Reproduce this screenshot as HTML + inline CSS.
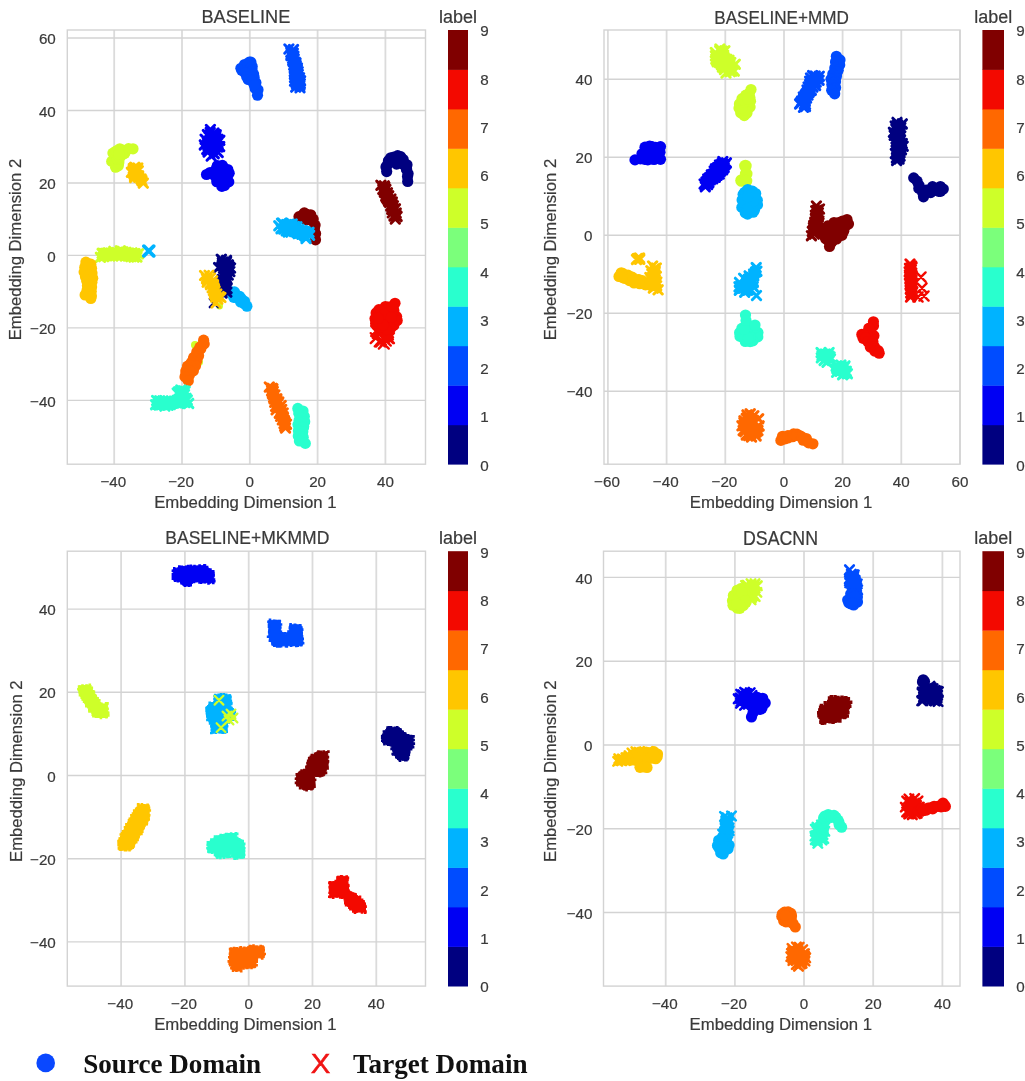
<!DOCTYPE html>
<html lang="en"><head><meta charset="utf-8"><title>t-SNE embeddings</title>
<style>html,body{margin:0;padding:0;background:#fff}svg{display:block}</style></head><body>
<svg width="1025" height="1081" viewBox="0 0 1025 1081" font-family="'Liberation Sans', Arial, sans-serif" fill="#3a3a3a">
<rect width="1025" height="1081" fill="#fff"/>
<g id="p1">
<g stroke="#d3d3d3" stroke-width="1.4" fill="none">
<path d="M114.2 30V464.2M182 30V464.2M249.8 30V464.2M317.6 30V464.2M385.4 30V464.2" stroke="#dbdbdb" stroke-width="1.8"/>
<path d="M67.3 400.4H425.5M67.3 327.9H425.5M67.3 255.4H425.5M67.3 183H425.5M67.3 110.5H425.5M67.3 38H425.5"/>
<rect x="67.3" y="30" width="358.2" height="434.2"/>
</g>
<rect x="448" y="424.7" width="20" height="39.9" fill="#000080"/>
<rect x="448" y="385.3" width="20" height="39.9" fill="#0000f3"/>
<rect x="448" y="345.8" width="20" height="39.9" fill="#004cff"/>
<rect x="448" y="306.3" width="20" height="39.9" fill="#00b3ff"/>
<rect x="448" y="266.8" width="20" height="39.9" fill="#29ffce"/>
<rect x="448" y="227.4" width="20" height="39.9" fill="#7bff7b"/>
<rect x="448" y="187.9" width="20" height="39.9" fill="#ceff29"/>
<rect x="448" y="148.4" width="20" height="39.9" fill="#ffc600"/>
<rect x="448" y="108.9" width="20" height="39.9" fill="#ff6800"/>
<rect x="448" y="69.5" width="20" height="39.9" fill="#f30900"/>
<rect x="448" y="30" width="20" height="39.9" fill="#800000"/>
<g stroke="#3a3a3a" stroke-width="0.2">
<text x="113.3" y="486.7" font-size="15.2" text-anchor="middle">−40</text>
<text x="181.1" y="486.7" font-size="15.2" text-anchor="middle">−20</text>
<text x="249.8" y="486.7" font-size="15.2" text-anchor="middle">0</text>
<text x="317.6" y="486.7" font-size="15.2" text-anchor="middle">20</text>
<text x="385.4" y="486.7" font-size="15.2" text-anchor="middle">40</text>
<text x="55.8" y="406.5" font-size="15.2" text-anchor="end">−40</text>
<text x="55.8" y="334" font-size="15.2" text-anchor="end">−20</text>
<text x="55.8" y="261.6" font-size="15.2" text-anchor="end">0</text>
<text x="55.8" y="189.1" font-size="15.2" text-anchor="end">20</text>
<text x="55.8" y="116.6" font-size="15.2" text-anchor="end">40</text>
<text x="55.8" y="44.1" font-size="15.2" text-anchor="end">60</text>
<text x="480.2" y="470.5" font-size="15.2">0</text>
<text x="480.2" y="422.3" font-size="15.2">1</text>
<text x="480.2" y="374" font-size="15.2">2</text>
<text x="480.2" y="325.8" font-size="15.2">3</text>
<text x="480.2" y="277.5" font-size="15.2">4</text>
<text x="480.2" y="229.3" font-size="15.2">5</text>
<text x="480.2" y="181" font-size="15.2">6</text>
<text x="480.2" y="132.8" font-size="15.2">7</text>
<text x="480.2" y="84.5" font-size="15.2">8</text>
<text x="480.2" y="36.3" font-size="15.2">9</text>
<text x="245.4" y="507.8" font-size="16" text-anchor="middle" textLength="182.5" lengthAdjust="spacingAndGlyphs">Embedding Dimension 1</text>
<text x="20.8" y="249.6" font-size="16" text-anchor="middle" textLength="181.5" lengthAdjust="spacingAndGlyphs" transform="rotate(-90 20.8 249.6)">Embedding Dimension 2</text>
<text x="245.9" y="23.4" font-size="19" text-anchor="middle" textLength="89" lengthAdjust="spacingAndGlyphs">BASELINE</text>
<text x="458" y="23" font-size="17.5" text-anchor="middle" textLength="38" lengthAdjust="spacingAndGlyphs">label</text>
</g>
<g fill="#ceff29"><circle cx="111.7" cy="161.4" r="5.6"/><circle cx="112.9" cy="153.1" r="5.6"/><circle cx="117.1" cy="150.9" r="5.6"/><circle cx="120.1" cy="156.4" r="5.6"/><circle cx="118.3" cy="165.7" r="5.6"/><circle cx="115.6" cy="167.2" r="5.6"/><circle cx="118.8" cy="162.7" r="5.6"/><circle cx="117" cy="152.5" r="5.6"/><circle cx="115.7" cy="157.9" r="5.6"/><circle cx="119.1" cy="159.4" r="5.6"/><circle cx="117.3" cy="159" r="5.6"/><circle cx="117.5" cy="158.2" r="5.6"/><circle cx="116" cy="151.1" r="5.6"/><circle cx="119.8" cy="148.8" r="5.6"/><circle cx="122.4" cy="150.2" r="5.6"/><circle cx="125.8" cy="151" r="5.6"/><circle cx="128.5" cy="148.6" r="5.6"/><circle cx="133" cy="148.8" r="5.6"/><circle cx="124.8" cy="153.2" r="5.6"/><circle cx="122.6" cy="154.6" r="5.6"/><circle cx="118.9" cy="156.9" r="5.6"/><circle cx="119.1" cy="153.2" r="5.6"/><circle cx="119.1" cy="154.2" r="5.6"/></g>
<path d="M127.2 168.1l8.4 8.4M127.2 176.5l8.4 -8.4M129.1 164.3l8.4 8.4M129.1 172.7l8.4 -8.4M133.6 163.8l8.4 8.4M133.6 172.2l8.4 -8.4M134.4 171.6l8.4 8.4M134.4 180l8.4 -8.4M130.4 173.3l8.4 8.4M130.4 181.7l8.4 -8.4M130.8 163.4l8.4 8.4M130.8 171.8l8.4 -8.4M133 165.7l8.4 8.4M133 174.1l8.4 -8.4M130.4 172.3l8.4 8.4M130.4 180.7l8.4 -8.4M130.6 163.1l8.4 8.4M130.6 171.5l8.4 -8.4M129.6 169.4l8.4 8.4M129.6 177.8l8.4 -8.4M134.1 166.5l8.4 8.4M134.1 174.9l8.4 -8.4M130.6 169l8.4 8.4M130.6 177.4l8.4 -8.4M131.1 166.3l8.4 8.4M131.1 174.7l8.4 -8.4M132.8 165.9l8.4 8.4M132.8 174.3l8.4 -8.4M130.1 170.3l8.4 8.4M130.1 178.7l8.4 -8.4M128.9 166l8.4 8.4M128.9 174.4l8.4 -8.4M134.5 173.1l8.4 8.4M134.5 181.5l8.4 -8.4M136.9 174.8l8.4 8.4M136.9 183.2l8.4 -8.4M137.7 176.4l8.4 8.4M137.7 184.8l8.4 -8.4M139.1 178.9l8.4 8.4M139.1 187.3l8.4 -8.4" stroke="#ffc600" stroke-width="3" stroke-linecap="round" fill="none"/>
<path d="M207 151.8l8.4 8.4M207 160.2l8.4 -8.4M203.9 147.7l8.4 8.4M203.9 156.1l8.4 -8.4M202.6 145.2l8.4 8.4M202.6 153.6l8.4 -8.4M200.1 140.7l8.4 8.4M200.1 149.1l8.4 -8.4M200.9 135l8.4 8.4M200.9 143.4l8.4 -8.4M203.2 130.4l8.4 8.4M203.2 138.8l8.4 -8.4M206.2 125.3l8.4 8.4M206.2 133.7l8.4 -8.4M209.8 128.9l8.4 8.4M209.8 137.3l8.4 -8.4M212 130.5l8.4 8.4M212 138.9l8.4 -8.4M215.6 136.1l8.4 8.4M215.6 144.5l8.4 -8.4M215.5 142.4l8.4 8.4M215.5 150.8l8.4 -8.4M214 148.3l8.4 8.4M214 156.7l8.4 -8.4M210 149.5l8.4 8.4M210 157.9l8.4 -8.4M213.7 138.4l8.4 8.4M213.7 146.8l8.4 -8.4M212.1 140.6l8.4 8.4M212.1 149l8.4 -8.4M206.6 134.9l8.4 8.4M206.6 143.3l8.4 -8.4M206.6 133.4l8.4 8.4M206.6 141.8l8.4 -8.4M211 140.4l8.4 8.4M211 148.8l8.4 -8.4M210.8 137.2l8.4 8.4M210.8 145.6l8.4 -8.4M208.2 131.7l8.4 8.4M208.2 140.1l8.4 -8.4M207.1 141.8l8.4 8.4M207.1 150.2l8.4 -8.4M206 128.2l8.4 8.4M206 136.6l8.4 -8.4M207.6 131.2l8.4 8.4M207.6 139.6l8.4 -8.4M205.9 145.1l8.4 8.4M205.9 153.5l8.4 -8.4M213.5 142.8l8.4 8.4M213.5 151.2l8.4 -8.4M202.1 136.3l8.4 8.4M202.1 144.7l8.4 -8.4M213.7 135.2l8.4 8.4M213.7 143.6l8.4 -8.4M211.5 130.5l8.4 8.4M211.5 138.9l8.4 -8.4M209.8 141.1l8.4 8.4M209.8 149.5l8.4 -8.4M209.3 134.7l8.4 8.4M209.3 143.1l8.4 -8.4M211.6 134.2l8.4 8.4M211.6 142.6l8.4 -8.4M210.2 140.4l8.4 8.4M210.2 148.8l8.4 -8.4M206.8 134.3l8.4 8.4M206.8 142.7l8.4 -8.4M204.5 132.1l8.4 8.4M204.5 140.5l8.4 -8.4M207.3 135l8.4 8.4M207.3 143.4l8.4 -8.4M205 138.7l8.4 8.4M205 147.1l8.4 -8.4M207.4 143.7l8.4 8.4M207.4 152.1l8.4 -8.4M211.8 131.8l8.4 8.4M211.8 140.2l8.4 -8.4M203.7 141.3l8.4 8.4M203.7 149.7l8.4 -8.4M205.4 131.4l8.4 8.4M205.4 139.8l8.4 -8.4" stroke="#0000f3" stroke-width="3" stroke-linecap="round" fill="none"/>
<g fill="#0000f3"><circle cx="228.8" cy="181.9" r="5.6"/><circle cx="224.5" cy="185.5" r="5.6"/><circle cx="221.9" cy="186.4" r="5.6"/><circle cx="216.8" cy="181.7" r="5.6"/><circle cx="214.6" cy="175.6" r="5.6"/><circle cx="215.8" cy="169.4" r="5.6"/><circle cx="217.3" cy="165.6" r="5.6"/><circle cx="222.4" cy="165.4" r="5.6"/><circle cx="227.8" cy="169.5" r="5.6"/><circle cx="229.2" cy="173.3" r="5.6"/><circle cx="223.2" cy="167.5" r="5.6"/><circle cx="221.5" cy="178.1" r="5.6"/><circle cx="222.8" cy="167.9" r="5.6"/><circle cx="221" cy="168.5" r="5.6"/><circle cx="220.1" cy="169.2" r="5.6"/><circle cx="226.7" cy="174.7" r="5.6"/><circle cx="216" cy="177.2" r="5.6"/><circle cx="225.1" cy="175.8" r="5.6"/><circle cx="221.2" cy="175.3" r="5.6"/><circle cx="221.4" cy="177.8" r="5.6"/><circle cx="206.5" cy="174.5" r="5.6"/><circle cx="210" cy="172.5" r="5.6"/></g>
<g fill="#004cff"><circle cx="240.9" cy="68.3" r="5.6"/><circle cx="244.5" cy="64.5" r="5.6"/><circle cx="247.6" cy="64" r="5.6"/><circle cx="250.9" cy="62.1" r="5.6"/><circle cx="249.3" cy="62.2" r="5.6"/><circle cx="252.2" cy="66.4" r="5.6"/><circle cx="251.9" cy="69.6" r="5.6"/><circle cx="251.4" cy="71.4" r="5.6"/><circle cx="253.6" cy="74.1" r="5.6"/><circle cx="254.1" cy="77.2" r="5.6"/><circle cx="252.8" cy="80.4" r="5.6"/><circle cx="255.9" cy="82.7" r="5.6"/><circle cx="255.2" cy="86.2" r="5.6"/><circle cx="255.2" cy="88.4" r="5.6"/><circle cx="258" cy="89.8" r="5.6"/><circle cx="257.5" cy="95.2" r="5.6"/><circle cx="241.7" cy="70.3" r="5.6"/><circle cx="245" cy="72.8" r="5.6"/><circle cx="246.6" cy="76.5" r="5.6"/><circle cx="248.2" cy="79.5" r="5.6"/><circle cx="251.5" cy="80.9" r="5.6"/><circle cx="254.2" cy="84.9" r="5.6"/></g>
<path d="M284.7 44.8l8.4 8.4M284.7 53.2l8.4 -8.4M289.3 45.4l8.4 8.4M289.3 53.8l8.4 -8.4M288.4 46.5l8.4 8.4M288.4 54.9l8.4 -8.4M286.6 48.1l8.4 8.4M286.6 56.5l8.4 -8.4M289.1 49l8.4 8.4M289.1 57.4l8.4 -8.4M286.8 50.5l8.4 8.4M286.8 58.9l8.4 -8.4M286.7 51.3l8.4 8.4M286.7 59.7l8.4 -8.4M289.7 52.1l8.4 8.4M289.7 60.5l8.4 -8.4M289.1 52.8l8.4 8.4M289.1 61.2l8.4 -8.4M288.4 54.4l8.4 8.4M288.4 62.8l8.4 -8.4M290 54.9l8.4 8.4M290 63.3l8.4 -8.4M288.5 56.3l8.4 8.4M288.5 64.7l8.4 -8.4M289 57.3l8.4 8.4M289 65.7l8.4 -8.4M291.3 58.2l8.4 8.4M291.3 66.6l8.4 -8.4M291.8 58.9l8.4 8.4M291.8 67.3l8.4 -8.4M289.5 60.9l8.4 8.4M289.5 69.3l8.4 -8.4M292 61.4l8.4 8.4M292 69.8l8.4 -8.4M291.9 62.1l8.4 8.4M291.9 70.5l8.4 -8.4M290 63.6l8.4 8.4M290 72l8.4 -8.4M293.2 63.9l8.4 8.4M293.2 72.3l8.4 -8.4M293.1 65.4l8.4 8.4M293.1 73.8l8.4 -8.4M290.1 67.1l8.4 8.4M290.1 75.5l8.4 -8.4M294 67.5l8.4 8.4M294 75.9l8.4 -8.4M292.1 68.9l8.4 8.4M292.1 77.3l8.4 -8.4M290.2 70.2l8.4 8.4M290.2 78.6l8.4 -8.4M294.1 70.2l8.4 8.4M294.1 78.6l8.4 -8.4M292.8 71.6l8.4 8.4M292.8 80l8.4 -8.4M290.3 73.3l8.4 8.4M290.3 81.7l8.4 -8.4M295.3 73.6l8.4 8.4M295.3 82l8.4 -8.4M293.1 74.9l8.4 8.4M293.1 83.3l8.4 -8.4M290.3 76.9l8.4 8.4M290.3 85.3l8.4 -8.4M296.4 76.6l8.4 8.4M296.4 85l8.4 -8.4M295.1 77.6l8.4 8.4M295.1 86l8.4 -8.4M292.1 79.2l8.4 8.4M292.1 87.6l8.4 -8.4M296.1 79.5l8.4 8.4M296.1 87.9l8.4 -8.4M295.7 81.2l8.4 8.4M295.7 89.6l8.4 -8.4M291.5 82.9l8.4 8.4M291.5 91.3l8.4 -8.4M295.8 83.6l8.4 8.4M295.8 92l8.4 -8.4" stroke="#004cff" stroke-width="3" stroke-linecap="round" fill="none"/>
<g fill="#000080"><circle cx="386.7" cy="171.6" r="5.6"/><circle cx="386" cy="167" r="5.6"/><circle cx="387" cy="165.4" r="5.6"/><circle cx="388.5" cy="160.6" r="5.6"/><circle cx="388.9" cy="160.9" r="5.6"/><circle cx="390.7" cy="157.8" r="5.6"/><circle cx="393.8" cy="157.2" r="5.6"/><circle cx="396.2" cy="158.9" r="5.6"/><circle cx="397.7" cy="155.6" r="5.6"/><circle cx="400.7" cy="156.7" r="5.6"/><circle cx="400.1" cy="158" r="5.6"/><circle cx="403.2" cy="159.5" r="5.6"/><circle cx="403.1" cy="163.1" r="5.6"/><circle cx="403.2" cy="164.3" r="5.6"/><circle cx="407" cy="164.8" r="5.6"/><circle cx="406.5" cy="169.4" r="5.6"/><circle cx="406.6" cy="169" r="5.6"/><circle cx="408.1" cy="173.7" r="5.6"/><circle cx="407.5" cy="176.4" r="5.6"/><circle cx="407.7" cy="181.5" r="5.6"/><circle cx="395.6" cy="159.9" r="5.6"/><circle cx="392.8" cy="161.3" r="5.6"/><circle cx="398" cy="161.4" r="5.6"/><circle cx="394.6" cy="160.9" r="5.6"/><circle cx="396.6" cy="164.1" r="5.6"/></g>
<path d="M376.7 181.1l8.4 8.4M376.7 189.5l8.4 -8.4M380.1 181.7l8.4 8.4M380.1 190.1l8.4 -8.4M380.6 182.7l8.4 8.4M380.6 191.1l8.4 -8.4M378.6 185.1l8.4 8.4M378.6 193.5l8.4 -8.4M381.7 185.2l8.4 8.4M381.7 193.6l8.4 -8.4M380.1 187.3l8.4 8.4M380.1 195.7l8.4 -8.4M380.2 188.1l8.4 8.4M380.2 196.5l8.4 -8.4M383.2 188.6l8.4 8.4M383.2 197l8.4 -8.4M382 189.9l8.4 8.4M382 198.3l8.4 -8.4M381.5 192l8.4 8.4M381.5 200.4l8.4 -8.4M384.5 191.6l8.4 8.4M384.5 200l8.4 -8.4M382.4 193.6l8.4 8.4M382.4 202l8.4 -8.4M383.2 194.7l8.4 8.4M383.2 203.1l8.4 -8.4M386.7 194.9l8.4 8.4M386.7 203.3l8.4 -8.4M384.4 197.1l8.4 8.4M384.4 205.5l8.4 -8.4M385.3 198.1l8.4 8.4M385.3 206.5l8.4 -8.4M388.1 197.9l8.4 8.4M388.1 206.3l8.4 -8.4M387.8 200l8.4 8.4M387.8 208.4l8.4 -8.4M386.5 201.7l8.4 8.4M386.5 210.1l8.4 -8.4M389.2 201.5l8.4 8.4M389.2 209.9l8.4 -8.4M388.3 203.6l8.4 8.4M388.3 212l8.4 -8.4M387.5 205l8.4 8.4M387.5 213.4l8.4 -8.4M391.2 204.6l8.4 8.4M391.2 213l8.4 -8.4M389.3 207l8.4 8.4M389.3 215.4l8.4 -8.4M388.1 208.6l8.4 8.4M388.1 217l8.4 -8.4M392 208.8l8.4 8.4M392 217.2l8.4 -8.4M391.7 209.6l8.4 8.4M391.7 218l8.4 -8.4M389.8 211.7l8.4 8.4M389.8 220.1l8.4 -8.4M392.9 212.2l8.4 8.4M392.9 220.6l8.4 -8.4M391.1 214.8l8.4 8.4M391.1 223.2l8.4 -8.4" stroke="#800000" stroke-width="3" stroke-linecap="round" fill="none"/>
<g fill="#800000"><circle cx="304.3" cy="212.9" r="5.6"/><circle cx="310.7" cy="214.8" r="5.6"/><circle cx="309.5" cy="219.7" r="5.6"/><circle cx="305.7" cy="219.9" r="5.6"/><circle cx="299" cy="216.7" r="5.6"/><circle cx="303.1" cy="214.7" r="5.6"/><circle cx="306.8" cy="214.4" r="5.6"/><circle cx="306.2" cy="215.7" r="5.6"/><circle cx="308.6" cy="219.3" r="5.6"/><circle cx="308.6" cy="218.9" r="5.6"/><circle cx="313.2" cy="219.1" r="5.6"/><circle cx="315.1" cy="225.1" r="5.6"/><circle cx="314.5" cy="227.8" r="5.6"/><circle cx="314.5" cy="231.8" r="5.6"/><circle cx="315.6" cy="233.8" r="5.6"/><circle cx="315.5" cy="239.8" r="5.6"/></g>
<path d="M274.6 221.6l8.4 8.4M274.6 230l8.4 -8.4M277.3 219l8.4 8.4M277.3 227.4l8.4 -8.4M278.1 218.9l8.4 8.4M278.1 227.3l8.4 -8.4M276.8 224.5l8.4 8.4M276.8 232.9l8.4 -8.4M279.3 220l8.4 8.4M279.3 228.4l8.4 -8.4M280.2 221.4l8.4 8.4M280.2 229.8l8.4 -8.4M279.5 224.7l8.4 8.4M279.5 233.1l8.4 -8.4M282.5 220.3l8.4 8.4M282.5 228.7l8.4 -8.4M282.1 223.2l8.4 8.4M282.1 231.6l8.4 -8.4M282 226.6l8.4 8.4M282 235l8.4 -8.4M285.1 219.9l8.4 8.4M285.1 228.3l8.4 -8.4M285.4 221.3l8.4 8.4M285.4 229.7l8.4 -8.4M284 227.7l8.4 8.4M284 236.1l8.4 -8.4M288 219.9l8.4 8.4M288 228.3l8.4 -8.4M288 222.4l8.4 8.4M288 230.8l8.4 -8.4M286.7 227.9l8.4 8.4M286.7 236.3l8.4 -8.4M290.3 222.3l8.4 8.4M290.3 230.7l8.4 -8.4M290.7 222.8l8.4 8.4M290.7 231.2l8.4 -8.4M290.2 227.3l8.4 8.4M290.2 235.7l8.4 -8.4M292.7 222.6l8.4 8.4M292.7 231l8.4 -8.4M292.5 226.1l8.4 8.4M292.5 234.5l8.4 -8.4M292.5 228l8.4 8.4M292.5 236.4l8.4 -8.4M294.8 225.1l8.4 8.4M294.8 233.5l8.4 -8.4M293.9 229.4l8.4 8.4M293.9 237.8l8.4 -8.4M295.4 228.9l8.4 8.4M295.4 237.3l8.4 -8.4M297.3 226.8l8.4 8.4M297.3 235.2l8.4 -8.4M298.1 226.3l8.4 8.4M298.1 234.7l8.4 -8.4M297.7 230.1l8.4 8.4M297.7 238.5l8.4 -8.4M299.6 227.4l8.4 8.4M299.6 235.8l8.4 -8.4M300.8 227.3l8.4 8.4M300.8 235.7l8.4 -8.4M300.3 231.1l8.4 8.4M300.3 239.5l8.4 -8.4M302.1 228.6l8.4 8.4M302.1 237l8.4 -8.4M301.6 232.6l8.4 8.4M301.6 241l8.4 -8.4M301.8 234.3l8.4 8.4M301.8 242.7l8.4 -8.4M304.8 228.1l8.4 8.4M304.8 236.5l8.4 -8.4M305.4 231.1l8.4 8.4M305.4 239.5l8.4 -8.4" stroke="#00b3ff" stroke-width="3" stroke-linecap="round" fill="none"/>
<path d="M96.3 253.1l8.4 8.4M96.3 261.5l8.4 -8.4M98 249.2l8.4 8.4M98 257.6l8.4 -8.4M98.8 249l8.4 8.4M98.8 257.4l8.4 -8.4M99.5 252.4l8.4 8.4M99.5 260.8l8.4 -8.4M100.9 249.4l8.4 8.4M100.9 257.8l8.4 -8.4M102 249l8.4 8.4M102 257.4l8.4 -8.4M102.6 251.6l8.4 8.4M102.6 260l8.4 -8.4M104.1 248.6l8.4 8.4M104.1 257l8.4 -8.4M105 250.4l8.4 8.4M105 258.8l8.4 -8.4M105.5 251.7l8.4 8.4M105.5 260.1l8.4 -8.4M106.8 248.8l8.4 8.4M106.8 257.2l8.4 -8.4M108.1 249.5l8.4 8.4M108.1 257.9l8.4 -8.4M108.6 251.7l8.4 8.4M108.6 260.1l8.4 -8.4M109.6 247.2l8.4 8.4M109.6 255.6l8.4 -8.4M110.8 250.2l8.4 8.4M110.8 258.6l8.4 -8.4M111.7 250.9l8.4 8.4M111.7 259.3l8.4 -8.4M112.6 248.4l8.4 8.4M112.6 256.8l8.4 -8.4M114 249l8.4 8.4M114 257.4l8.4 -8.4M115 250.6l8.4 8.4M115 259l8.4 -8.4M116.1 246.5l8.4 8.4M116.1 254.9l8.4 -8.4M117 251l8.4 8.4M117 259.4l8.4 -8.4M117.8 251.1l8.4 8.4M117.8 259.5l8.4 -8.4M118.6 247.5l8.4 8.4M118.6 255.9l8.4 -8.4M120 248.9l8.4 8.4M120 257.3l8.4 -8.4M121.1 251.8l8.4 8.4M121.1 260.2l8.4 -8.4M121.7 248.1l8.4 8.4M121.7 256.5l8.4 -8.4M122.8 249.6l8.4 8.4M122.8 258l8.4 -8.4M124.1 251.8l8.4 8.4M124.1 260.2l8.4 -8.4M124.5 248.8l8.4 8.4M124.5 257.2l8.4 -8.4M125.9 251.8l8.4 8.4M125.9 260.2l8.4 -8.4M126.8 252.4l8.4 8.4M126.8 260.8l8.4 -8.4M127.8 248.7l8.4 8.4M127.8 257.1l8.4 -8.4M128.6 250.4l8.4 8.4M128.6 258.8l8.4 -8.4M129.8 252.9l8.4 8.4M129.8 261.3l8.4 -8.4M130.6 249.4l8.4 8.4M130.6 257.8l8.4 -8.4M131.7 251.6l8.4 8.4M131.7 260l8.4 -8.4M132.7 252.8l8.4 8.4M132.7 261.2l8.4 -8.4M134.3 249.5l8.4 8.4M134.3 257.9l8.4 -8.4" stroke="#ceff29" stroke-width="3" stroke-linecap="round" fill="none"/>
<path d="M143.9 246.1l9.8 9.8M143.9 255.9l9.8 -9.8" stroke="#00b3ff" stroke-width="3.7" stroke-linecap="round" fill="none"/>
<g fill="#ffc600"><circle cx="85.9" cy="262.1" r="5.6"/><circle cx="90.8" cy="264.2" r="5.6"/><circle cx="88.7" cy="265.5" r="5.6"/><circle cx="84.8" cy="267.2" r="5.6"/><circle cx="91.5" cy="268.3" r="5.6"/><circle cx="89.1" cy="270.5" r="5.6"/><circle cx="84.1" cy="272.1" r="5.6"/><circle cx="92" cy="273.1" r="5.6"/><circle cx="88.4" cy="275.2" r="5.6"/><circle cx="85.5" cy="276.7" r="5.6"/><circle cx="92.7" cy="278.2" r="5.6"/><circle cx="89.7" cy="279.7" r="5.6"/><circle cx="86.8" cy="281.2" r="5.6"/><circle cx="91.9" cy="282.2" r="5.6"/><circle cx="88.1" cy="284.1" r="5.6"/><circle cx="87.4" cy="285.7" r="5.6"/><circle cx="91.6" cy="287.1" r="5.6"/><circle cx="90.3" cy="288.3" r="5.6"/><circle cx="87" cy="290.5" r="5.6"/><circle cx="91.2" cy="291.2" r="5.6"/><circle cx="90.7" cy="292.7" r="5.6"/><circle cx="85.1" cy="295" r="5.6"/><circle cx="91.4" cy="296" r="5.6"/><circle cx="90.8" cy="298.5" r="5.6"/></g>
<g fill="#00b3ff"><circle cx="230.9" cy="291.8" r="5.6"/><circle cx="234.5" cy="291.9" r="5.6"/><circle cx="234.9" cy="294.8" r="5.6"/><circle cx="236.3" cy="297.6" r="5.6"/><circle cx="239.7" cy="296.4" r="5.6"/><circle cx="241.4" cy="298.8" r="5.6"/><circle cx="240.6" cy="302" r="5.6"/><circle cx="244.5" cy="301.3" r="5.6"/><circle cx="244.3" cy="303.9" r="5.6"/><circle cx="246.9" cy="306.2" r="5.6"/><circle cx="234.1" cy="294.7" r="5.6"/><circle cx="234.5" cy="296.4" r="5.6"/><circle cx="233.7" cy="297.3" r="5.6"/></g>
<g fill="#ceff29"><circle cx="219.5" cy="306" r="3.5"/></g>
<path d="M209.8 298.8l8.4 8.4M209.8 307.2l8.4 -8.4" stroke="#000080" stroke-width="2.4" stroke-linecap="round" fill="none"/>
<path d="M217.1 255.1l8.4 8.4M217.1 263.5l8.4 -8.4M222.3 256.2l8.4 8.4M222.3 264.6l8.4 -8.4M225.2 262.8l8.4 8.4M225.2 271.2l8.4 -8.4M221 266l8.4 8.4M221 274.4l8.4 -8.4M214.5 263.4l8.4 8.4M214.5 271.8l8.4 -8.4M224.1 263.2l8.4 8.4M224.1 271.6l8.4 -8.4M222.3 257.3l8.4 8.4M222.3 265.7l8.4 -8.4M221.9 258.4l8.4 8.4M221.9 266.8l8.4 -8.4M222.4 262.8l8.4 8.4M222.4 271.2l8.4 -8.4M218.8 257.9l8.4 8.4M218.8 266.3l8.4 -8.4M224.2 260.7l8.4 8.4M224.2 269.1l8.4 -8.4M218.1 261.2l8.4 8.4M218.1 269.6l8.4 -8.4M219.1 258l8.4 8.4M219.1 266.4l8.4 -8.4M219.4 264.1l8.4 8.4M219.4 272.5l8.4 -8.4M218.2 258.6l8.4 8.4M218.2 267l8.4 -8.4M218.3 260.5l8.4 8.4M218.3 268.9l8.4 -8.4M222.1 261.5l8.4 8.4M222.1 269.9l8.4 -8.4M226.3 263.8l8.4 8.4M226.3 272.2l8.4 -8.4M224.4 264.6l8.4 8.4M224.4 273l8.4 -8.4M221.9 265.6l8.4 8.4M221.9 274l8.4 -8.4M225.6 267.3l8.4 8.4M225.6 275.7l8.4 -8.4M222.2 267.9l8.4 8.4M222.2 276.3l8.4 -8.4M221.3 269.2l8.4 8.4M221.3 277.6l8.4 -8.4M224 270.8l8.4 8.4M224 279.2l8.4 -8.4M221 271.5l8.4 8.4M221 279.9l8.4 -8.4M220.3 271.9l8.4 8.4M220.3 280.3l8.4 -8.4M222.3 274l8.4 8.4M222.3 282.4l8.4 -8.4M222.9 275.2l8.4 8.4M222.9 283.6l8.4 -8.4M218 275.3l8.4 8.4M218 283.7l8.4 -8.4M221.3 277.1l8.4 8.4M221.3 285.5l8.4 -8.4M218.9 278.1l8.4 8.4M218.9 286.5l8.4 -8.4M217 278.7l8.4 8.4M217 287.1l8.4 -8.4M221.2 280.4l8.4 8.4M221.2 288.8l8.4 -8.4M220.5 281.9l8.4 8.4M220.5 290.3l8.4 -8.4M217 282l8.4 8.4M217 290.4l8.4 -8.4M222.8 284.3l8.4 8.4M222.8 292.7l8.4 -8.4M217.6 284.3l8.4 8.4M217.6 292.7l8.4 -8.4M218.1 285.7l8.4 8.4M218.1 294.1l8.4 -8.4M222.6 287.9l8.4 8.4M222.6 296.3l8.4 -8.4M217.9 288.7l8.4 8.4M217.9 297.1l8.4 -8.4" stroke="#000080" stroke-width="3" stroke-linecap="round" fill="none"/>
<path d="M200.3 271.3l8.4 8.4M200.3 279.7l8.4 -8.4M204.8 270.9l8.4 8.4M204.8 279.3l8.4 -8.4M202.4 273.3l8.4 8.4M202.4 281.7l8.4 -8.4M202.2 274.5l8.4 8.4M202.2 282.9l8.4 -8.4M206.3 273.7l8.4 8.4M206.3 282.1l8.4 -8.4M203.4 276.4l8.4 8.4M203.4 284.8l8.4 -8.4M202.9 278.1l8.4 8.4M202.9 286.5l8.4 -8.4M208.5 276.5l8.4 8.4M208.5 284.9l8.4 -8.4M205.9 279.3l8.4 8.4M205.9 287.7l8.4 -8.4M206.2 280.5l8.4 8.4M206.2 288.9l8.4 -8.4M209 280.1l8.4 8.4M209 288.5l8.4 -8.4M209.5 281l8.4 8.4M209.5 289.4l8.4 -8.4M207.9 283.6l8.4 8.4M207.9 292l8.4 -8.4M209.9 283.5l8.4 8.4M209.9 291.9l8.4 -8.4M210.4 285l8.4 8.4M210.4 293.4l8.4 -8.4M209.1 286.3l8.4 8.4M209.1 294.7l8.4 -8.4M211 286.7l8.4 8.4M211 295.1l8.4 -8.4M210.1 288.3l8.4 8.4M210.1 296.7l8.4 -8.4M210.2 290.1l8.4 8.4M210.2 298.5l8.4 -8.4M212.7 289.8l8.4 8.4M212.7 298.2l8.4 -8.4M211.5 292.1l8.4 8.4M211.5 300.5l8.4 -8.4M211.4 293.2l8.4 8.4M211.4 301.6l8.4 -8.4M215.1 292.3l8.4 8.4M215.1 300.7l8.4 -8.4M213.7 295.1l8.4 8.4M213.7 303.5l8.4 -8.4M211.8 298.8l8.4 8.4M211.8 307.2l8.4 -8.4M216.8 293.3l8.4 8.4M216.8 301.7l8.4 -8.4" stroke="#ffc600" stroke-width="2.8" stroke-linecap="round" fill="none"/>
<g fill="#ceff29"><circle cx="195" cy="345" r="4"/><circle cx="199" cy="362" r="4"/></g>
<g fill="#ff6800"><circle cx="203.6" cy="340.2" r="5.6"/><circle cx="204.2" cy="343.9" r="5.6"/><circle cx="201.8" cy="345.8" r="5.6"/><circle cx="200" cy="347.1" r="5.6"/><circle cx="200.8" cy="348.9" r="5.6"/><circle cx="198.8" cy="350" r="5.6"/><circle cx="196.8" cy="351.9" r="5.6"/><circle cx="198.6" cy="355.7" r="5.6"/><circle cx="197.2" cy="356.7" r="5.6"/><circle cx="193.5" cy="358.2" r="5.6"/><circle cx="194.1" cy="357.1" r="5.6"/><circle cx="196.8" cy="360.8" r="5.6"/><circle cx="192.8" cy="361" r="5.6"/><circle cx="191.2" cy="362.8" r="5.6"/><circle cx="195.5" cy="365.8" r="5.6"/><circle cx="190.8" cy="365.7" r="5.6"/><circle cx="187.5" cy="366.1" r="5.6"/><circle cx="193.4" cy="370.8" r="5.6"/><circle cx="189.2" cy="370.5" r="5.6"/><circle cx="185.8" cy="371.1" r="5.6"/><circle cx="189.4" cy="375.3" r="5.6"/><circle cx="185.8" cy="374.4" r="5.6"/><circle cx="185" cy="376.9" r="5.6"/><circle cx="188.3" cy="380.9" r="5.6"/></g>
<path d="M151.4 400.5l8.4 8.4M151.4 408.9l8.4 -8.4M152.4 396.3l8.4 8.4M152.4 404.7l8.4 -8.4M153.6 400l8.4 8.4M153.6 408.4l8.4 -8.4M154.9 400.7l8.4 8.4M154.9 409.1l8.4 -8.4M155.5 396.5l8.4 8.4M155.5 404.9l8.4 -8.4M156.7 400.6l8.4 8.4M156.7 409l8.4 -8.4M157.5 400.4l8.4 8.4M157.5 408.8l8.4 -8.4M158.7 396.7l8.4 8.4M158.7 405.1l8.4 -8.4M159.3 398.1l8.4 8.4M159.3 406.5l8.4 -8.4M160.7 401.9l8.4 8.4M160.7 410.3l8.4 -8.4M161.2 397.2l8.4 8.4M161.2 405.6l8.4 -8.4M162.5 398.6l8.4 8.4M162.5 407l8.4 -8.4M163.9 401l8.4 8.4M163.9 409.4l8.4 -8.4M164.3 397.5l8.4 8.4M164.3 405.9l8.4 -8.4M165.7 399.9l8.4 8.4M165.7 408.3l8.4 -8.4M166.2 400.2l8.4 8.4M166.2 408.6l8.4 -8.4M167.5 397.3l8.4 8.4M167.5 405.7l8.4 -8.4M168.2 399.1l8.4 8.4M168.2 407.5l8.4 -8.4M169.5 398.8l8.4 8.4M169.5 407.2l8.4 -8.4M170.3 397.2l8.4 8.4M170.3 405.6l8.4 -8.4M170.9 397.2l8.4 8.4M170.9 405.6l8.4 -8.4M172.1 398.5l8.4 8.4M172.1 406.9l8.4 -8.4M173.1 396.1l8.4 8.4M173.1 404.5l8.4 -8.4M174.5 399.2l8.4 8.4M174.5 407.6l8.4 -8.4M175.4 398.4l8.4 8.4M175.4 406.8l8.4 -8.4M175.8 396.1l8.4 8.4M175.8 404.5l8.4 -8.4M177.1 397.5l8.4 8.4M177.1 405.9l8.4 -8.4M178.1 397.9l8.4 8.4M178.1 406.3l8.4 -8.4M178.6 394.2l8.4 8.4M178.6 402.6l8.4 -8.4M180 397.8l8.4 8.4M180 406.2l8.4 -8.4M180.8 398.3l8.4 8.4M180.8 406.7l8.4 -8.4M181.9 394.2l8.4 8.4M181.9 402.6l8.4 -8.4M183.1 395.8l8.4 8.4M183.1 404.2l8.4 -8.4M184.5 399.2l8.4 8.4M184.5 407.6l8.4 -8.4M173 388.8l8.4 8.4M173 397.2l8.4 -8.4M176.6 385.9l8.4 8.4M176.6 394.3l8.4 -8.4M178.9 391.7l8.4 8.4M178.9 400.1l8.4 -8.4M174.4 387.5l8.4 8.4M174.4 395.9l8.4 -8.4M177.5 388.8l8.4 8.4M177.5 397.2l8.4 -8.4M181 387l8.4 8.4M181 395.4l8.4 -8.4M176.4 389.7l8.4 8.4M176.4 398.1l8.4 -8.4M180.3 390.3l8.4 8.4M180.3 398.7l8.4 -8.4M175.1 390.9l8.4 8.4M175.1 399.3l8.4 -8.4M179.1 386.5l8.4 8.4M179.1 394.9l8.4 -8.4" stroke="#29ffce" stroke-width="3" stroke-linecap="round" fill="none"/>
<path d="M384 333.1l10 10M384 343.1l10 -10M378.8 338.6l10 10M378.8 348.6l10 -10M374.7 336.4l10 10M374.7 346.4l10 -10M370.7 333.1l10 10M370.7 343.1l10 -10M371.1 326l10 10M371.1 336l10 -10M377.2 322.7l10 10M377.2 332.7l10 -10M379.9 321.9l10 10M379.9 331.9l10 -10M383.1 327.4l10 10M383.1 337.4l10 -10M372.6 326.9l10 10M372.6 336.9l10 -10M379.1 331.9l10 10M379.1 341.9l10 -10M382.3 332.2l10 10M382.3 342.2l10 -10M373.7 327.3l10 10M373.7 337.3l10 -10M373.9 328.6l10 10M373.9 338.6l10 -10M383 329.5l10 10M383 339.5l10 -10M376.2 324.7l10 10M376.2 334.7l10 -10M379.9 331l10 10M379.9 341l10 -10M378.1 325.3l10 10M378.1 335.3l10 -10M376 334.7l10 10M376 344.7l10 -10M378.2 332.5l10 10M378.2 342.5l10 -10M383.1 333.3l10 10M383.1 343.3l10 -10M372.7 327.9l10 10M372.7 337.9l10 -10M382.5 332.1l10 10M382.5 342.1l10 -10M376 336.6l10 10M376 346.6l10 -10M380.8 335.6l10 10M380.8 345.6l10 -10" stroke="#f30900" stroke-width="2.3" stroke-linecap="round" fill="none"/>
<g fill="#f30900"><circle cx="376.1" cy="312.9" r="5.6"/><circle cx="378.9" cy="309.7" r="5.6"/><circle cx="385.4" cy="306.5" r="5.6"/><circle cx="388.5" cy="307.2" r="5.6"/><circle cx="393.9" cy="310.8" r="5.6"/><circle cx="396.6" cy="316.6" r="5.6"/><circle cx="397.2" cy="320.5" r="5.6"/><circle cx="393.8" cy="325.4" r="5.6"/><circle cx="390.8" cy="328.3" r="5.6"/><circle cx="386.6" cy="329.6" r="5.6"/><circle cx="379.8" cy="327.2" r="5.6"/><circle cx="375.6" cy="323.2" r="5.6"/><circle cx="375" cy="318.6" r="5.6"/><circle cx="381.9" cy="312.1" r="5.6"/><circle cx="386.6" cy="313.6" r="5.6"/><circle cx="383.6" cy="310.8" r="5.6"/><circle cx="387.4" cy="309.3" r="5.6"/><circle cx="380.8" cy="311.2" r="5.6"/><circle cx="378.9" cy="322" r="5.6"/><circle cx="385" cy="317.7" r="5.6"/><circle cx="382.7" cy="319.2" r="5.6"/><circle cx="392.6" cy="313.7" r="5.6"/><circle cx="383.2" cy="325" r="5.6"/><circle cx="384.7" cy="313.9" r="5.6"/><circle cx="378.3" cy="318.2" r="5.6"/><circle cx="391.3" cy="317.4" r="5.6"/><circle cx="395" cy="303.3" r="5.6"/><circle cx="392" cy="306.5" r="5.6"/></g>
<path d="M265.1 382.8l8.4 8.4M265.1 391.2l8.4 -8.4M267.9 384.1l8.4 8.4M267.9 392.5l8.4 -8.4M268.7 384.7l8.4 8.4M268.7 393.1l8.4 -8.4M267.4 386.7l8.4 8.4M267.4 395.1l8.4 -8.4M269.1 387.3l8.4 8.4M269.1 395.7l8.4 -8.4M268.2 389.4l8.4 8.4M268.2 397.8l8.4 -8.4M268.8 390l8.4 8.4M268.8 398.4l8.4 -8.4M270.7 390.8l8.4 8.4M270.7 399.2l8.4 -8.4M269.4 393.2l8.4 8.4M269.4 401.6l8.4 -8.4M269.8 394.5l8.4 8.4M269.8 402.9l8.4 -8.4M272.6 394.6l8.4 8.4M272.6 403l8.4 -8.4M272.6 395.7l8.4 8.4M272.6 404.1l8.4 -8.4M270.5 398.1l8.4 8.4M270.5 406.5l8.4 -8.4M274.6 397.9l8.4 8.4M274.6 406.3l8.4 -8.4M273.9 399.4l8.4 8.4M273.9 407.8l8.4 -8.4M271.4 402.1l8.4 8.4M271.4 410.5l8.4 -8.4M277 401.3l8.4 8.4M277 409.7l8.4 -8.4M275.7 402.8l8.4 8.4M275.7 411.2l8.4 -8.4M271.9 405.6l8.4 8.4M271.9 414l8.4 -8.4M277.5 405.3l8.4 8.4M277.5 413.7l8.4 -8.4M276.5 407l8.4 8.4M276.5 415.4l8.4 -8.4M275.1 409l8.4 8.4M275.1 417.4l8.4 -8.4M279 408.8l8.4 8.4M279 417.2l8.4 -8.4M277.5 410.5l8.4 8.4M277.5 418.9l8.4 -8.4M276.4 412.1l8.4 8.4M276.4 420.5l8.4 -8.4M279 412.5l8.4 8.4M279 420.9l8.4 -8.4M279.3 413.7l8.4 8.4M279.3 422.1l8.4 -8.4M278.1 415.6l8.4 8.4M278.1 424l8.4 -8.4M280.2 416.4l8.4 8.4M280.2 424.8l8.4 -8.4M280.9 418l8.4 8.4M280.9 426.4l8.4 -8.4M279.8 419.4l8.4 8.4M279.8 427.8l8.4 -8.4M282.3 420l8.4 8.4M282.3 428.4l8.4 -8.4M280.5 422l8.4 8.4M280.5 430.4l8.4 -8.4M281.3 423.7l8.4 8.4M281.3 432.1l8.4 -8.4" stroke="#ff6800" stroke-width="3" stroke-linecap="round" fill="none"/>
<g fill="#29ffce"><circle cx="297.8" cy="408.4" r="5.6"/><circle cx="303" cy="411" r="5.6"/><circle cx="298.8" cy="413" r="5.6"/><circle cx="299.3" cy="414.3" r="5.6"/><circle cx="304.3" cy="416.4" r="5.6"/><circle cx="301.6" cy="418.2" r="5.6"/><circle cx="299.1" cy="420.3" r="5.6"/><circle cx="304.7" cy="421.7" r="5.6"/><circle cx="300.2" cy="422.8" r="5.6"/><circle cx="298" cy="424.6" r="5.6"/><circle cx="303.7" cy="426.5" r="5.6"/><circle cx="303.2" cy="428.1" r="5.6"/><circle cx="298.4" cy="430.7" r="5.6"/><circle cx="302.8" cy="431.7" r="5.6"/><circle cx="301.1" cy="434.3" r="5.6"/><circle cx="298.3" cy="436" r="5.6"/><circle cx="303.2" cy="437.3" r="5.6"/><circle cx="302.5" cy="439" r="5.6"/><circle cx="299.4" cy="441" r="5.6"/><circle cx="305.3" cy="443.4" r="5.6"/></g>
</g>
<g id="p2">
<g stroke="#d3d3d3" stroke-width="1.4" fill="none">
<path d="M607.9 30V464.2M666.6 30V464.2M725.3 30V464.2M784 30V464.2M842.6 30V464.2M901.3 30V464.2M960 30V464.2" stroke="#dbdbdb" stroke-width="1.8"/>
<path d="M604 391.2H960M604 313.2H960M604 235.2H960M604 157.2H960M604 79.2H960"/>
<rect x="604" y="30" width="356" height="434.2"/>
</g>
<rect x="982.4" y="424.7" width="21.6" height="39.9" fill="#000080"/>
<rect x="982.4" y="385.3" width="21.6" height="39.9" fill="#0000f3"/>
<rect x="982.4" y="345.8" width="21.6" height="39.9" fill="#004cff"/>
<rect x="982.4" y="306.3" width="21.6" height="39.9" fill="#00b3ff"/>
<rect x="982.4" y="266.8" width="21.6" height="39.9" fill="#29ffce"/>
<rect x="982.4" y="227.4" width="21.6" height="39.9" fill="#7bff7b"/>
<rect x="982.4" y="187.9" width="21.6" height="39.9" fill="#ceff29"/>
<rect x="982.4" y="148.4" width="21.6" height="39.9" fill="#ffc600"/>
<rect x="982.4" y="108.9" width="21.6" height="39.9" fill="#ff6800"/>
<rect x="982.4" y="69.5" width="21.6" height="39.9" fill="#f30900"/>
<rect x="982.4" y="30" width="21.6" height="39.9" fill="#800000"/>
<g stroke="#3a3a3a" stroke-width="0.2">
<text x="607" y="486.7" font-size="15.2" text-anchor="middle">−60</text>
<text x="665.7" y="486.7" font-size="15.2" text-anchor="middle">−40</text>
<text x="724.4" y="486.7" font-size="15.2" text-anchor="middle">−20</text>
<text x="784" y="486.7" font-size="15.2" text-anchor="middle">0</text>
<text x="842.6" y="486.7" font-size="15.2" text-anchor="middle">20</text>
<text x="901.3" y="486.7" font-size="15.2" text-anchor="middle">40</text>
<text x="960" y="486.7" font-size="15.2" text-anchor="middle">60</text>
<text x="592.5" y="397.3" font-size="15.2" text-anchor="end">−40</text>
<text x="592.5" y="319.3" font-size="15.2" text-anchor="end">−20</text>
<text x="592.5" y="241.3" font-size="15.2" text-anchor="end">0</text>
<text x="592.5" y="163.3" font-size="15.2" text-anchor="end">20</text>
<text x="592.5" y="85.3" font-size="15.2" text-anchor="end">40</text>
<text x="1016.2" y="470.5" font-size="15.2">0</text>
<text x="1016.2" y="422.3" font-size="15.2">1</text>
<text x="1016.2" y="374" font-size="15.2">2</text>
<text x="1016.2" y="325.8" font-size="15.2">3</text>
<text x="1016.2" y="277.5" font-size="15.2">4</text>
<text x="1016.2" y="229.3" font-size="15.2">5</text>
<text x="1016.2" y="181" font-size="15.2">6</text>
<text x="1016.2" y="132.8" font-size="15.2">7</text>
<text x="1016.2" y="84.5" font-size="15.2">8</text>
<text x="1016.2" y="36.3" font-size="15.2">9</text>
<text x="781" y="507.8" font-size="16" text-anchor="middle" textLength="182.5" lengthAdjust="spacingAndGlyphs">Embedding Dimension 1</text>
<text x="556" y="249.6" font-size="16" text-anchor="middle" textLength="181.5" lengthAdjust="spacingAndGlyphs" transform="rotate(-90 556 249.6)">Embedding Dimension 2</text>
<text x="781.5" y="23.8" font-size="17.6" text-anchor="middle" textLength="134.5" lengthAdjust="spacingAndGlyphs">BASELINE+MMD</text>
<text x="993.2" y="23" font-size="17.5" text-anchor="middle" textLength="38" lengthAdjust="spacingAndGlyphs">label</text>
</g>
<path d="M713 57.5l8.4 8.4M713 65.9l8.4 -8.4M711.1 48.3l8.4 8.4M711.1 56.7l8.4 -8.4M715.7 44.9l8.4 8.4M715.7 53.3l8.4 -8.4M720.7 46.5l8.4 8.4M720.7 54.9l8.4 -8.4M722.5 55l8.4 8.4M722.5 63.4l8.4 -8.4M717.1 60.4l8.4 8.4M717.1 68.8l8.4 -8.4M715.5 46.4l8.4 8.4M715.5 54.8l8.4 -8.4M711.6 54.9l8.4 8.4M711.6 63.3l8.4 -8.4M712.3 56.1l8.4 8.4M712.3 64.5l8.4 -8.4M713.7 54.3l8.4 8.4M713.7 62.7l8.4 -8.4M717.8 46.9l8.4 8.4M717.8 55.3l8.4 -8.4M718.6 50.7l8.4 8.4M718.6 59.1l8.4 -8.4M718.6 52.2l8.4 8.4M718.6 60.6l8.4 -8.4M711.2 51.6l8.4 8.4M711.2 60l8.4 -8.4M719.5 51l8.4 8.4M719.5 59.4l8.4 -8.4M719.7 53l8.4 8.4M719.7 61.4l8.4 -8.4M719.8 54.2l8.4 8.4M719.8 62.6l8.4 -8.4M715.2 58.2l8.4 8.4M715.2 66.6l8.4 -8.4M715.4 56.3l8.4 8.4M715.4 64.7l8.4 -8.4M718.8 50.8l8.4 8.4M718.8 59.2l8.4 -8.4M718.2 62.9l8.4 8.4M718.2 71.3l8.4 -8.4M718.4 59.5l8.4 8.4M718.4 67.9l8.4 -8.4M724.8 56l8.4 8.4M724.8 64.4l8.4 -8.4M731.1 60l8.4 8.4M731.1 68.4l8.4 -8.4M730.1 66.9l8.4 8.4M730.1 75.3l8.4 -8.4M721.8 68.8l8.4 8.4M721.8 77.2l8.4 -8.4M720.3 63.7l8.4 8.4M720.3 72.1l8.4 -8.4M719.1 60.4l8.4 8.4M719.1 68.8l8.4 -8.4M720.2 65.3l8.4 8.4M720.2 73.7l8.4 -8.4M725.8 65.8l8.4 8.4M725.8 74.2l8.4 -8.4M725.1 62.8l8.4 8.4M725.1 71.2l8.4 -8.4M726.4 63l8.4 8.4M726.4 71.4l8.4 -8.4M726.6 58.3l8.4 8.4M726.6 66.7l8.4 -8.4M727.8 66.8l8.4 8.4M727.8 75.2l8.4 -8.4M725.7 60.7l8.4 8.4M725.7 69.1l8.4 -8.4M726 67.4l8.4 8.4M726 75.8l8.4 -8.4M725.6 60l8.4 8.4M725.6 68.4l8.4 -8.4M728.8 65.5l8.4 8.4M728.8 73.9l8.4 -8.4M720.3 62.8l8.4 8.4M720.3 71.2l8.4 -8.4M725.7 59.1l8.4 8.4M725.7 67.5l8.4 -8.4" stroke="#ceff29" stroke-width="3" stroke-linecap="round" fill="none"/>
<g fill="#ceff29"><circle cx="751" cy="89.5" r="5.6"/><circle cx="749.5" cy="93" r="5.6"/><circle cx="742" cy="98.7" r="5.6"/><circle cx="745.8" cy="95.2" r="5.6"/><circle cx="749.9" cy="97.6" r="5.6"/><circle cx="750.5" cy="101.3" r="5.6"/><circle cx="750.1" cy="107.1" r="5.6"/><circle cx="747" cy="113.1" r="5.6"/><circle cx="744.3" cy="115.6" r="5.6"/><circle cx="740.7" cy="112.9" r="5.6"/><circle cx="739" cy="108.1" r="5.6"/><circle cx="739.4" cy="103.9" r="5.6"/><circle cx="747.9" cy="102.5" r="5.6"/><circle cx="745.1" cy="112.2" r="5.6"/><circle cx="747.6" cy="106.7" r="5.6"/><circle cx="744.4" cy="112.6" r="5.6"/><circle cx="745" cy="113.4" r="5.6"/><circle cx="745.1" cy="110" r="5.6"/><circle cx="741.9" cy="107.9" r="5.6"/><circle cx="743.9" cy="102.5" r="5.6"/><circle cx="742.4" cy="99.9" r="5.6"/><circle cx="747.5" cy="98.7" r="5.6"/></g>
<g fill="#0000f3"><circle cx="645" cy="147.2" r="5.6"/><circle cx="649.6" cy="146" r="5.6"/><circle cx="651.9" cy="146.7" r="5.6"/><circle cx="655.6" cy="147.3" r="5.6"/><circle cx="660.5" cy="146.6" r="5.6"/><circle cx="635" cy="159.9" r="5.6"/><circle cx="640.5" cy="158.9" r="5.6"/><circle cx="644.7" cy="159.4" r="5.6"/><circle cx="647.8" cy="159.8" r="5.6"/><circle cx="651.1" cy="158.8" r="5.6"/><circle cx="654.1" cy="159.5" r="5.6"/><circle cx="660.5" cy="159.3" r="5.6"/><circle cx="642" cy="153.8" r="5.6"/><circle cx="647.8" cy="152.4" r="5.6"/><circle cx="651.3" cy="153.4" r="5.6"/><circle cx="655.5" cy="153.7" r="5.6"/><circle cx="660" cy="152.3" r="5.6"/></g>
<path d="M701.1 182.5l8.4 8.4M701.1 190.9l8.4 -8.4M699.9 179.8l8.4 8.4M699.9 188.2l8.4 -8.4M701.2 179.9l8.4 8.4M701.2 188.3l8.4 -8.4M703.5 180.2l8.4 8.4M703.5 188.6l8.4 -8.4M701.8 177.8l8.4 8.4M701.8 186.2l8.4 -8.4M702.7 177.2l8.4 8.4M702.7 185.6l8.4 -8.4M704.7 178.3l8.4 8.4M704.7 186.7l8.4 -8.4M704 176l8.4 8.4M704 184.4l8.4 -8.4M703.5 174.8l8.4 8.4M703.5 183.2l8.4 -8.4M706.2 175.5l8.4 8.4M706.2 183.9l8.4 -8.4M705.3 173.6l8.4 8.4M705.3 182l8.4 -8.4M706.3 173.8l8.4 8.4M706.3 182.2l8.4 -8.4M708.6 174.5l8.4 8.4M708.6 182.9l8.4 -8.4M707.2 172.1l8.4 8.4M707.2 180.5l8.4 -8.4M707.1 170.7l8.4 8.4M707.1 179.1l8.4 -8.4M711.1 173.1l8.4 8.4M711.1 181.5l8.4 -8.4M709 170l8.4 8.4M709 178.4l8.4 -8.4M711.3 170.8l8.4 8.4M711.3 179.2l8.4 -8.4M712.9 171.1l8.4 8.4M712.9 179.5l8.4 -8.4M710 166.9l8.4 8.4M710 175.3l8.4 -8.4M712.5 168.3l8.4 8.4M712.5 176.7l8.4 -8.4M715.1 169.8l8.4 8.4M715.1 178.2l8.4 -8.4M711.3 164.6l8.4 8.4M711.3 173l8.4 -8.4M715.1 167.3l8.4 8.4M715.1 175.7l8.4 -8.4M716.4 166.9l8.4 8.4M716.4 175.3l8.4 -8.4M713.5 163.4l8.4 8.4M713.5 171.8l8.4 -8.4M716.6 165.3l8.4 8.4M716.6 173.7l8.4 -8.4M718.5 165.5l8.4 8.4M718.5 173.9l8.4 -8.4M715.3 160.9l8.4 8.4M715.3 169.3l8.4 -8.4M716.5 161.4l8.4 8.4M716.5 169.8l8.4 -8.4M720 163.4l8.4 8.4M720 171.8l8.4 -8.4M717.6 159.7l8.4 8.4M717.6 168.1l8.4 -8.4M718.2 159.2l8.4 8.4M718.2 167.6l8.4 -8.4M720.9 160.4l8.4 8.4M720.9 168.8l8.4 -8.4M718.6 157.3l8.4 8.4M718.6 165.7l8.4 -8.4M722.2 158.7l8.4 8.4M722.2 167.1l8.4 -8.4" stroke="#0000f3" stroke-width="3" stroke-linecap="round" fill="none"/>
<g fill="#ceff29"><circle cx="745.4" cy="166" r="6.3"/><circle cx="746.2" cy="174" r="6.3"/><circle cx="741.5" cy="180.5" r="6.3"/><circle cx="746" cy="181" r="6.3"/></g>
<g fill="#00b3ff"><circle cx="755.7" cy="193.5" r="5.6"/><circle cx="757.3" cy="200.3" r="5.6"/><circle cx="757.5" cy="204.9" r="5.6"/><circle cx="754.4" cy="210.3" r="5.6"/><circle cx="753.1" cy="212.2" r="5.6"/><circle cx="747.6" cy="214.1" r="5.6"/><circle cx="745.3" cy="212.9" r="5.6"/><circle cx="741.8" cy="207.4" r="5.6"/><circle cx="742.1" cy="200" r="5.6"/><circle cx="743.1" cy="194.5" r="5.6"/><circle cx="744.5" cy="192.4" r="5.6"/><circle cx="747.7" cy="189.5" r="5.6"/><circle cx="752.5" cy="191.2" r="5.6"/><circle cx="744.8" cy="201.9" r="5.6"/><circle cx="754.4" cy="195.9" r="5.6"/><circle cx="746.2" cy="208.8" r="5.6"/><circle cx="745.2" cy="204.6" r="5.6"/><circle cx="753.3" cy="206.3" r="5.6"/><circle cx="747.3" cy="208.2" r="5.6"/><circle cx="750.8" cy="203.8" r="5.6"/><circle cx="743.9" cy="202.8" r="5.6"/><circle cx="744.1" cy="196.5" r="5.6"/><circle cx="747.7" cy="205.6" r="5.6"/><circle cx="743.3" cy="198.6" r="5.6"/><circle cx="753.6" cy="200.9" r="5.6"/><circle cx="747.6" cy="196.8" r="5.6"/></g>
<path d="M799.3 103.1l8.4 8.4M799.3 111.5l8.4 -8.4M795.4 99.7l8.4 8.4M795.4 108.1l8.4 -8.4M796.3 99l8.4 8.4M796.3 107.4l8.4 -8.4M801.3 100.2l8.4 8.4M801.3 108.6l8.4 -8.4M797.4 96.9l8.4 8.4M797.4 105.3l8.4 -8.4M801.1 97.4l8.4 8.4M801.1 105.8l8.4 -8.4M801 96.4l8.4 8.4M801 104.8l8.4 -8.4M799.4 94.5l8.4 8.4M799.4 102.9l8.4 -8.4M799.1 92.8l8.4 8.4M799.1 101.2l8.4 -8.4M802.4 93.8l8.4 8.4M802.4 102.2l8.4 -8.4M800.9 91.7l8.4 8.4M800.9 100.1l8.4 -8.4M801.2 90.6l8.4 8.4M801.2 99l8.4 -8.4M803.8 90.8l8.4 8.4M803.8 99.2l8.4 -8.4M802.2 89.3l8.4 8.4M802.2 97.7l8.4 -8.4M803.1 88.4l8.4 8.4M803.1 96.8l8.4 -8.4M804.9 88.1l8.4 8.4M804.9 96.5l8.4 -8.4M802.8 85.8l8.4 8.4M802.8 94.2l8.4 -8.4M806.5 86.3l8.4 8.4M806.5 94.7l8.4 -8.4M807.1 86l8.4 8.4M807.1 94.4l8.4 -8.4M803.9 82.8l8.4 8.4M803.9 91.2l8.4 -8.4M805.6 82.6l8.4 8.4M805.6 91l8.4 -8.4M808.7 82.9l8.4 8.4M808.7 91.3l8.4 -8.4M805.4 80.2l8.4 8.4M805.4 88.6l8.4 -8.4M806 79.4l8.4 8.4M806 87.8l8.4 -8.4M811.4 81.2l8.4 8.4M811.4 89.6l8.4 -8.4M805.4 77l8.4 8.4M805.4 85.4l8.4 -8.4M809.8 77.7l8.4 8.4M809.8 86.1l8.4 -8.4M812 77.8l8.4 8.4M812 86.2l8.4 -8.4M806.3 73.8l8.4 8.4M806.3 82.2l8.4 -8.4M811.1 74.8l8.4 8.4M811.1 83.2l8.4 -8.4M814.9 76l8.4 8.4M814.9 84.4l8.4 -8.4M808.4 71.4l8.4 8.4M808.4 79.8l8.4 -8.4M811 71.9l8.4 8.4M811 80.3l8.4 -8.4M815.1 72l8.4 8.4M815.1 80.4l8.4 -8.4M799.2 95.9l8.4 8.4M799.2 104.3l8.4 -8.4M801.3 102.3l8.4 8.4M801.3 110.7l8.4 -8.4M800.2 99.9l8.4 8.4M800.2 108.3l8.4 -8.4M800.5 99.6l8.4 8.4M800.5 108l8.4 -8.4M800.9 102.2l8.4 8.4M800.9 110.6l8.4 -8.4M796.2 98.6l8.4 8.4M796.2 107l8.4 -8.4" stroke="#004cff" stroke-width="3" stroke-linecap="round" fill="none"/>
<g fill="#004cff"><circle cx="836.4" cy="56.3" r="5.6"/><circle cx="840" cy="59.9" r="5.6"/><circle cx="835.8" cy="61.4" r="5.6"/><circle cx="835.7" cy="62.3" r="5.6"/><circle cx="839.7" cy="64.9" r="5.6"/><circle cx="837.7" cy="67.3" r="5.6"/><circle cx="834.8" cy="68" r="5.6"/><circle cx="838.2" cy="70.2" r="5.6"/><circle cx="837.1" cy="72.1" r="5.6"/><circle cx="832.8" cy="73.9" r="5.6"/><circle cx="836.5" cy="76" r="5.6"/><circle cx="835.6" cy="78.3" r="5.6"/><circle cx="831" cy="79.3" r="5.6"/><circle cx="835.5" cy="81.7" r="5.6"/><circle cx="833.5" cy="82.8" r="5.6"/><circle cx="831.8" cy="84.5" r="5.6"/><circle cx="835.6" cy="87.7" r="5.6"/><circle cx="833.7" cy="88.7" r="5.6"/><circle cx="831.7" cy="90.3" r="5.6"/><circle cx="834.7" cy="93.8" r="5.6"/></g>
<path d="M892.8 118.2l8.4 8.4M892.8 126.6l8.4 -8.4M898.1 119.7l8.4 8.4M898.1 128.1l8.4 -8.4M893.4 120.7l8.4 8.4M893.4 129.1l8.4 -8.4M891 121.9l8.4 8.4M891 130.3l8.4 -8.4M896.6 123.4l8.4 8.4M896.6 131.8l8.4 -8.4M895.1 124.2l8.4 8.4M895.1 132.6l8.4 -8.4M891.7 124.9l8.4 8.4M891.7 133.3l8.4 -8.4M895.6 126.2l8.4 8.4M895.6 134.6l8.4 -8.4M895.7 127.5l8.4 8.4M895.7 135.9l8.4 -8.4M889.2 128.1l8.4 8.4M889.2 136.5l8.4 -8.4M895.6 129.5l8.4 8.4M895.6 137.9l8.4 -8.4M892.1 130.5l8.4 8.4M892.1 138.9l8.4 -8.4M890 131.1l8.4 8.4M890 139.5l8.4 -8.4M895.5 132.3l8.4 8.4M895.5 140.7l8.4 -8.4M895.2 133.7l8.4 8.4M895.2 142.1l8.4 -8.4M891.8 134.6l8.4 8.4M891.8 143l8.4 -8.4M896.4 135.7l8.4 8.4M896.4 144.1l8.4 -8.4M893 136.8l8.4 8.4M893 145.2l8.4 -8.4M891.9 137.7l8.4 8.4M891.9 146.1l8.4 -8.4M898.1 139.3l8.4 8.4M898.1 147.7l8.4 -8.4M893.7 140l8.4 8.4M893.7 148.4l8.4 -8.4M892.5 140.7l8.4 8.4M892.5 149.1l8.4 -8.4M899 142l8.4 8.4M899 150.4l8.4 -8.4M896.2 143.4l8.4 8.4M896.2 151.8l8.4 -8.4M892.6 144.2l8.4 8.4M892.6 152.6l8.4 -8.4M897.3 145.5l8.4 8.4M897.3 153.9l8.4 -8.4M896 146.3l8.4 8.4M896 154.7l8.4 -8.4M892.6 147.1l8.4 8.4M892.6 155.5l8.4 -8.4M895.9 148.6l8.4 8.4M895.9 157l8.4 -8.4M891.1 149.3l8.4 8.4M891.1 157.7l8.4 -8.4M892.5 150.2l8.4 8.4M892.5 158.6l8.4 -8.4M895.9 151.9l8.4 8.4M895.9 160.3l8.4 -8.4M892.9 152.9l8.4 8.4M892.9 161.3l8.4 -8.4M892.2 153.7l8.4 8.4M892.2 162.1l8.4 -8.4M894.9 154.7l8.4 8.4M894.9 163.1l8.4 -8.4M892.4 156.3l8.4 8.4M892.4 164.7l8.4 -8.4" stroke="#000080" stroke-width="3" stroke-linecap="round" fill="none"/>
<g fill="#000080"><circle cx="913.7" cy="177.9" r="5.6"/><circle cx="917.1" cy="181.2" r="5.6"/><circle cx="919.1" cy="185.5" r="5.6"/><circle cx="918.8" cy="188.4" r="5.6"/><circle cx="922.7" cy="192.4" r="5.6"/><circle cx="923.5" cy="196.8" r="5.6"/><circle cx="930.7" cy="192.6" r="5.6"/><circle cx="926.1" cy="190.1" r="5.6"/><circle cx="932.5" cy="186.6" r="5.6"/><circle cx="940.4" cy="186.5" r="5.6"/><circle cx="943.3" cy="189" r="5.6"/><circle cx="940.5" cy="191.3" r="5.6"/><circle cx="931" cy="191.2" r="5.6"/><circle cx="934.1" cy="188" r="5.6"/><circle cx="929.8" cy="190.5" r="5.6"/><circle cx="933.5" cy="190.5" r="5.6"/><circle cx="938.7" cy="191.4" r="5.6"/><circle cx="941.4" cy="189.8" r="5.6"/></g>
<path d="M812.2 201.8l8.4 8.4M812.2 210.2l8.4 -8.4M815.3 204.8l8.4 8.4M815.3 213.2l8.4 -8.4M813.2 205.9l8.4 8.4M813.2 214.3l8.4 -8.4M811.5 206.5l8.4 8.4M811.5 214.9l8.4 -8.4M814.2 208.5l8.4 8.4M814.2 216.9l8.4 -8.4M813.5 210.1l8.4 8.4M813.5 218.5l8.4 -8.4M811.1 211l8.4 8.4M811.1 219.4l8.4 -8.4M813.8 212.2l8.4 8.4M813.8 220.6l8.4 -8.4M811.4 213.5l8.4 8.4M811.4 221.9l8.4 -8.4M811.2 214.6l8.4 8.4M811.2 223l8.4 -8.4M814.7 216.8l8.4 8.4M814.7 225.2l8.4 -8.4M810.7 217.9l8.4 8.4M810.7 226.3l8.4 -8.4M810.6 218.6l8.4 8.4M810.6 227l8.4 -8.4M814.2 221l8.4 8.4M814.2 229.4l8.4 -8.4M809.5 221.4l8.4 8.4M809.5 229.8l8.4 -8.4M809.2 223.2l8.4 8.4M809.2 231.6l8.4 -8.4M812.2 225.1l8.4 8.4M812.2 233.5l8.4 -8.4M811.1 226.1l8.4 8.4M811.1 234.5l8.4 -8.4M808.1 227.2l8.4 8.4M808.1 235.6l8.4 -8.4M810.4 228.2l8.4 8.4M810.4 236.6l8.4 -8.4M810.2 229.9l8.4 8.4M810.2 238.3l8.4 -8.4M807.2 231.5l8.4 8.4M807.2 239.9l8.4 -8.4M814.8 218.8l8.4 8.4M814.8 227.2l8.4 -8.4M809.4 227l8.4 8.4M809.4 235.4l8.4 -8.4M813.1 222.4l8.4 8.4M813.1 230.8l8.4 -8.4M812 226.8l8.4 8.4M812 235.2l8.4 -8.4M812.6 223.1l8.4 8.4M812.6 231.5l8.4 -8.4M812.3 227.5l8.4 8.4M812.3 235.9l8.4 -8.4M809.3 225.5l8.4 8.4M809.3 233.9l8.4 -8.4M812.6 217.2l8.4 8.4M812.6 225.6l8.4 -8.4" stroke="#800000" stroke-width="3" stroke-linecap="round" fill="none"/>
<g fill="#800000"><circle cx="840.6" cy="223.2" r="5.6"/><circle cx="843.9" cy="226.9" r="5.6"/><circle cx="843.7" cy="231.3" r="5.6"/><circle cx="841.8" cy="235.4" r="5.6"/><circle cx="836.6" cy="239" r="5.6"/><circle cx="832.2" cy="241.4" r="5.6"/><circle cx="828.7" cy="241.1" r="5.6"/><circle cx="825.7" cy="238.9" r="5.6"/><circle cx="824" cy="235.3" r="5.6"/><circle cx="824.3" cy="230.7" r="5.6"/><circle cx="827.8" cy="225.9" r="5.6"/><circle cx="834" cy="222.5" r="5.6"/><circle cx="838.7" cy="222.7" r="5.6"/><circle cx="830.4" cy="226.7" r="5.6"/><circle cx="834.2" cy="232.1" r="5.6"/><circle cx="829.9" cy="239.4" r="5.6"/><circle cx="841" cy="229.2" r="5.6"/><circle cx="833.6" cy="231" r="5.6"/><circle cx="833.2" cy="228" r="5.6"/><circle cx="833.7" cy="230.2" r="5.6"/><circle cx="837.1" cy="234.4" r="5.6"/><circle cx="838.9" cy="226.5" r="5.6"/><circle cx="830.7" cy="238.5" r="5.6"/><circle cx="835.5" cy="230.3" r="5.6"/><circle cx="837.6" cy="235.1" r="5.6"/><circle cx="825.4" cy="233.3" r="5.6"/><circle cx="847" cy="219.5" r="5.6"/><circle cx="842.5" cy="221" r="5.6"/><circle cx="848.5" cy="224" r="5.6"/><circle cx="845" cy="227" r="5.6"/><circle cx="829.5" cy="246.5" r="5.6"/><circle cx="831" cy="243" r="5.6"/></g>
<g fill="#ffc600"><circle cx="619" cy="276.5" r="5.6"/><circle cx="623" cy="273.6" r="5.6"/><circle cx="624.5" cy="274.9" r="5.6"/><circle cx="624.4" cy="278.4" r="5.6"/><circle cx="628" cy="275.1" r="5.6"/><circle cx="629.2" cy="276.9" r="5.6"/><circle cx="629.4" cy="280.6" r="5.6"/><circle cx="632.2" cy="277.1" r="5.6"/><circle cx="633.4" cy="280" r="5.6"/><circle cx="634.1" cy="283" r="5.6"/><circle cx="637.7" cy="279.8" r="5.6"/><circle cx="638.8" cy="279.6" r="5.6"/><circle cx="639.7" cy="283.7" r="5.6"/><circle cx="642.3" cy="280.7" r="5.6"/><circle cx="643.5" cy="283.7" r="5.6"/><circle cx="645.5" cy="284.9" r="5.6"/><circle cx="621.9" cy="275.1" r="5.6"/><circle cx="621" cy="273.6" r="5.6"/><circle cx="621.3" cy="272.8" r="5.6"/><circle cx="622.2" cy="277.3" r="5.6"/></g>
<path d="M632.3 255.2l8.4 8.4M632.3 263.6l8.4 -8.4M634 254.4l8.4 8.4M634 262.8l8.4 -8.4M635.3 253.9l8.4 8.4M635.3 262.3l8.4 -8.4M635.5 255.1l8.4 8.4M635.5 263.5l8.4 -8.4M633.2 254.3l8.4 8.4M633.2 262.7l8.4 -8.4M648.4 261.8l8.4 8.4M648.4 270.2l8.4 -8.4M652.1 263.8l8.4 8.4M652.1 272.2l8.4 -8.4M650.5 264.5l8.4 8.4M650.5 272.9l8.4 -8.4M646.7 266.5l8.4 8.4M646.7 274.9l8.4 -8.4M651 267.1l8.4 8.4M651 275.5l8.4 -8.4M650.7 268.7l8.4 8.4M650.7 277.1l8.4 -8.4M647.7 269.8l8.4 8.4M647.7 278.2l8.4 -8.4M650.4 270.8l8.4 8.4M650.4 279.2l8.4 -8.4M650.2 271.9l8.4 8.4M650.2 280.3l8.4 -8.4M645.7 273.3l8.4 8.4M645.7 281.7l8.4 -8.4M650.6 274.3l8.4 8.4M650.6 282.7l8.4 -8.4M648 275.9l8.4 8.4M648 284.3l8.4 -8.4M647.7 277.1l8.4 8.4M647.7 285.5l8.4 -8.4M652.6 277.8l8.4 8.4M652.6 286.2l8.4 -8.4M652 278.8l8.4 8.4M652 287.2l8.4 -8.4M648.6 280.5l8.4 8.4M648.6 288.9l8.4 -8.4M652.4 281.5l8.4 8.4M652.4 289.9l8.4 -8.4M650.2 283.1l8.4 8.4M650.2 291.5l8.4 -8.4M649.2 283.9l8.4 8.4M649.2 292.3l8.4 -8.4M653.9 285.6l8.4 8.4M653.9 294l8.4 -8.4" stroke="#ffc600" stroke-width="3" stroke-linecap="round" fill="none"/>
<path d="M749.1 278.2l8.4 8.4M749.1 286.6l8.4 -8.4M749 282.5l8.4 8.4M749 290.9l8.4 -8.4M744.1 285.7l8.4 8.4M744.1 294.1l8.4 -8.4M740.5 288l8.4 8.4M740.5 296.4l8.4 -8.4M735.1 286l8.4 8.4M735.1 294.4l8.4 -8.4M734.8 282.6l8.4 8.4M734.8 291l8.4 -8.4M735.3 278.2l8.4 8.4M735.3 286.6l8.4 -8.4M739.4 274l8.4 8.4M739.4 282.4l8.4 -8.4M744.9 271.7l8.4 8.4M744.9 280.1l8.4 -8.4M747 273.2l8.4 8.4M747 281.6l8.4 -8.4M746.1 277.5l8.4 8.4M746.1 285.9l8.4 -8.4M738.3 283.8l8.4 8.4M738.3 292.2l8.4 -8.4M745.3 275l8.4 8.4M745.3 283.4l8.4 -8.4M742.8 286l8.4 8.4M742.8 294.4l8.4 -8.4M738.1 281.2l8.4 8.4M738.1 289.6l8.4 -8.4M737.6 283.9l8.4 8.4M737.6 292.3l8.4 -8.4M742.5 278.4l8.4 8.4M742.5 286.8l8.4 -8.4M744.4 276l8.4 8.4M744.4 284.4l8.4 -8.4M742.9 281.3l8.4 8.4M742.9 289.7l8.4 -8.4M749 277.1l8.4 8.4M749 285.5l8.4 -8.4M737 280.5l8.4 8.4M737 288.9l8.4 -8.4M741.4 280.4l8.4 8.4M741.4 288.8l8.4 -8.4M742.5 280.6l8.4 8.4M742.5 289l8.4 -8.4M742.9 278.6l8.4 8.4M742.9 287l8.4 -8.4M744.2 275l8.4 8.4M744.2 283.4l8.4 -8.4M743.2 283.1l8.4 8.4M743.2 291.5l8.4 -8.4M744.6 280.3l8.4 8.4M744.6 288.7l8.4 -8.4M736.1 282.5l8.4 8.4M736.1 290.9l8.4 -8.4M742.4 282.7l8.4 8.4M742.4 291.1l8.4 -8.4M739 284l8.4 8.4M739 292.4l8.4 -8.4M747 279.1l8.4 8.4M747 287.5l8.4 -8.4M743 282.1l8.4 8.4M743 290.5l8.4 -8.4M752 263.4l8.4 8.4M752 271.8l8.4 -8.4M752.7 267l8.4 8.4M752.7 275.4l8.4 -8.4M751.4 267.9l8.4 8.4M751.4 276.3l8.4 -8.4M749.4 269.9l8.4 8.4M749.4 278.3l8.4 -8.4M749.6 271.6l8.4 8.4M749.6 280l8.4 -8.4M747.2 273.5l8.4 8.4M747.2 281.9l8.4 -8.4M752.3 291.3l8.4 8.4M752.3 299.7l8.4 -8.4" stroke="#00b3ff" stroke-width="3" stroke-linecap="round" fill="none"/>
<g fill="#29ffce"><circle cx="757.9" cy="332.5" r="5.6"/><circle cx="757.8" cy="336.9" r="5.6"/><circle cx="752.9" cy="340.9" r="5.6"/><circle cx="750.1" cy="341.6" r="5.6"/><circle cx="745.3" cy="341.5" r="5.6"/><circle cx="740" cy="336.4" r="5.6"/><circle cx="739.6" cy="332.8" r="5.6"/><circle cx="741.8" cy="328.4" r="5.6"/><circle cx="745.2" cy="327.3" r="5.6"/><circle cx="749.5" cy="325.8" r="5.6"/><circle cx="754.6" cy="327.8" r="5.6"/><circle cx="749.8" cy="333.1" r="5.6"/><circle cx="742.8" cy="336.9" r="5.6"/><circle cx="748.5" cy="336.4" r="5.6"/><circle cx="749.7" cy="335.8" r="5.6"/><circle cx="746.3" cy="331.6" r="5.6"/><circle cx="747.9" cy="334" r="5.6"/><circle cx="744.6" cy="335.4" r="5.6"/><circle cx="750.2" cy="337.3" r="5.6"/><circle cx="744.3" cy="338.8" r="5.6"/><circle cx="748.3" cy="338.1" r="5.6"/><circle cx="744.5" cy="329.2" r="5.6"/><circle cx="745.5" cy="315" r="5.6"/><circle cx="746" cy="320.5" r="5.6"/><circle cx="755" cy="325" r="5.6"/></g>
<path d="M905.8 259.8l8.4 8.4M905.8 268.2l8.4 -8.4M907.4 261.9l8.4 8.4M907.4 270.3l8.4 -8.4M907.9 263l8.4 8.4M907.9 271.4l8.4 -8.4M905.3 264.1l8.4 8.4M905.3 272.5l8.4 -8.4M907.2 265.2l8.4 8.4M907.2 273.6l8.4 -8.4M906.5 266.6l8.4 8.4M906.5 275l8.4 -8.4M905 267.6l8.4 8.4M905 276l8.4 -8.4M907.6 268.7l8.4 8.4M907.6 277.1l8.4 -8.4M906.7 269.9l8.4 8.4M906.7 278.3l8.4 -8.4M905.2 270.7l8.4 8.4M905.2 279.1l8.4 -8.4M907.9 271.9l8.4 8.4M907.9 280.3l8.4 -8.4M906.2 273.3l8.4 8.4M906.2 281.7l8.4 -8.4M905.6 274.6l8.4 8.4M905.6 283l8.4 -8.4M907.9 275.7l8.4 8.4M907.9 284.1l8.4 -8.4M906 277.2l8.4 8.4M906 285.6l8.4 -8.4M906 278l8.4 8.4M906 286.4l8.4 -8.4M908.6 279.2l8.4 8.4M908.6 287.6l8.4 -8.4M905.8 280.4l8.4 8.4M905.8 288.8l8.4 -8.4M906.1 281.3l8.4 8.4M906.1 289.7l8.4 -8.4M907.7 282.8l8.4 8.4M907.7 291.2l8.4 -8.4M906.6 283.9l8.4 8.4M906.6 292.3l8.4 -8.4M906.1 285l8.4 8.4M906.1 293.4l8.4 -8.4M907.8 286.2l8.4 8.4M907.8 294.6l8.4 -8.4M907.3 287.6l8.4 8.4M907.3 296l8.4 -8.4M906.5 288.7l8.4 8.4M906.5 297.1l8.4 -8.4M907.6 289.5l8.4 8.4M907.6 297.9l8.4 -8.4M907.5 290.9l8.4 8.4M907.5 299.3l8.4 -8.4M906.3 292.8l8.4 8.4M906.3 301.2l8.4 -8.4" stroke="#f30900" stroke-width="3" stroke-linecap="round" fill="none"/>
<path d="M916.4 272.4l9.2 9.2M916.4 281.6l9.2 -9.2M917.4 283.4l9.2 9.2M917.4 292.6l9.2 -9.2M913.4 292.4l9.2 9.2M913.4 301.6l9.2 -9.2M919.4 291.4l9.2 9.2M919.4 300.6l9.2 -9.2" stroke="#f30900" stroke-width="2.4" stroke-linecap="round" fill="none"/>
<g fill="#f30900"><circle cx="873.4" cy="321.8" r="5.6"/><circle cx="873.5" cy="325.8" r="5.6"/><circle cx="871.7" cy="327.3" r="5.6"/><circle cx="869.6" cy="328.4" r="5.6"/><circle cx="870.2" cy="331.1" r="5.6"/><circle cx="867.8" cy="332.9" r="5.6"/><circle cx="873.9" cy="335.7" r="5.6"/><circle cx="872.1" cy="339.4" r="5.6"/><circle cx="863.1" cy="338.3" r="5.6"/><circle cx="861.8" cy="334.4" r="5.6"/><circle cx="868.8" cy="328.3" r="5.6"/><circle cx="868.8" cy="339.7" r="5.6"/><circle cx="866.6" cy="338.8" r="5.6"/><circle cx="867.2" cy="335.5" r="5.6"/><circle cx="864.4" cy="335.2" r="5.6"/><circle cx="865.4" cy="337.6" r="5.6"/><circle cx="867.9" cy="341.7" r="5.6"/><circle cx="872.9" cy="341.7" r="5.6"/><circle cx="872.2" cy="343.8" r="5.6"/><circle cx="870.3" cy="347.1" r="5.6"/><circle cx="874.4" cy="346.6" r="5.6"/><circle cx="874.7" cy="348.9" r="5.6"/><circle cx="874.7" cy="351.1" r="5.6"/><circle cx="878.3" cy="350.6" r="5.6"/><circle cx="879.2" cy="353.2" r="5.6"/></g>
<path d="M822.8 358.1l8.4 8.4M822.8 366.5l8.4 -8.4M817.1 353.6l8.4 8.4M817.1 362l8.4 -8.4M816.9 348.4l8.4 8.4M816.9 356.8l8.4 -8.4M824.9 348.3l8.4 8.4M824.9 356.7l8.4 -8.4M826.3 354.7l8.4 8.4M826.3 363.1l8.4 -8.4M818.9 350.2l8.4 8.4M818.9 358.6l8.4 -8.4M820.9 355.4l8.4 8.4M820.9 363.8l8.4 -8.4M823.6 352l8.4 8.4M823.6 360.4l8.4 -8.4M823 353.6l8.4 8.4M823 362l8.4 -8.4M821 349.9l8.4 8.4M821 358.3l8.4 -8.4M817.8 351.5l8.4 8.4M817.8 359.9l8.4 -8.4M819.9 356.2l8.4 8.4M819.9 364.6l8.4 -8.4M820.9 351.3l8.4 8.4M820.9 359.7l8.4 -8.4M825.9 352.8l8.4 8.4M825.9 361.2l8.4 -8.4M819.5 351.2l8.4 8.4M819.5 359.6l8.4 -8.4M824.8 351.8l8.4 8.4M824.8 360.2l8.4 -8.4M840.8 361.7l8.4 8.4M840.8 370.1l8.4 -8.4M843.2 369.5l8.4 8.4M843.2 377.9l8.4 -8.4M838.4 370.5l8.4 8.4M838.4 378.9l8.4 -8.4M832.4 368.1l8.4 8.4M832.4 376.5l8.4 -8.4M831.9 362l8.4 8.4M831.9 370.4l8.4 -8.4M836.7 360.8l8.4 8.4M836.7 369.2l8.4 -8.4M837.5 366.1l8.4 8.4M837.5 374.5l8.4 -8.4M840 369.2l8.4 8.4M840 377.6l8.4 -8.4M835.2 363.8l8.4 8.4M835.2 372.2l8.4 -8.4M836 367l8.4 8.4M836 375.4l8.4 -8.4M840.5 367.4l8.4 8.4M840.5 375.8l8.4 -8.4M837 363.5l8.4 8.4M837 371.9l8.4 -8.4M832.6 364.4l8.4 8.4M832.6 372.8l8.4 -8.4M840.3 362.7l8.4 8.4M840.3 371.1l8.4 -8.4M838 363l8.4 8.4M838 371.4l8.4 -8.4M842.1 367.1l8.4 8.4M842.1 375.5l8.4 -8.4M833 361.8l8.4 8.4M833 370.2l8.4 -8.4M840.1 366.8l8.4 8.4M840.1 375.2l8.4 -8.4" stroke="#29ffce" stroke-width="3" stroke-linecap="round" fill="none"/>
<path d="M737.8 421.6l8.4 8.4M737.8 430l8.4 -8.4M739.8 416.6l8.4 8.4M739.8 425l8.4 -8.4M742.8 410.7l8.4 8.4M742.8 419.1l8.4 -8.4M746 409.6l8.4 8.4M746 418l8.4 -8.4M749.6 411.5l8.4 8.4M749.6 419.9l8.4 -8.4M754.4 414.6l8.4 8.4M754.4 423l8.4 -8.4M754.9 421.7l8.4 8.4M754.9 430.1l8.4 -8.4M753.7 426.4l8.4 8.4M753.7 434.8l8.4 -8.4M751.9 431.7l8.4 8.4M751.9 440.1l8.4 -8.4M747.3 432.7l8.4 8.4M747.3 441.1l8.4 -8.4M742.1 430.7l8.4 8.4M742.1 439.1l8.4 -8.4M739 426.4l8.4 8.4M739 434.8l8.4 -8.4M751.5 425l8.4 8.4M751.5 433.4l8.4 -8.4M740.6 427.4l8.4 8.4M740.6 435.8l8.4 -8.4M742.1 418.8l8.4 8.4M742.1 427.2l8.4 -8.4M744.5 431.3l8.4 8.4M744.5 439.7l8.4 -8.4M748.9 424.7l8.4 8.4M748.9 433.1l8.4 -8.4M745.2 418.5l8.4 8.4M745.2 426.9l8.4 -8.4M739.8 418.4l8.4 8.4M739.8 426.8l8.4 -8.4M749.4 425.1l8.4 8.4M749.4 433.5l8.4 -8.4M744.2 413l8.4 8.4M744.2 421.4l8.4 -8.4M746 420l8.4 8.4M746 428.4l8.4 -8.4M748.6 428.2l8.4 8.4M748.6 436.6l8.4 -8.4M752.9 423.3l8.4 8.4M752.9 431.7l8.4 -8.4M744.9 421l8.4 8.4M744.9 429.4l8.4 -8.4M742.1 414.2l8.4 8.4M742.1 422.6l8.4 -8.4M740.2 417.8l8.4 8.4M740.2 426.2l8.4 -8.4M739.7 421.3l8.4 8.4M739.7 429.7l8.4 -8.4M741.6 420.4l8.4 8.4M741.6 428.8l8.4 -8.4M751.9 427.8l8.4 8.4M751.9 436.2l8.4 -8.4M746.9 416.8l8.4 8.4M746.9 425.2l8.4 -8.4M743.7 419.8l8.4 8.4M743.7 428.2l8.4 -8.4M753.5 422.4l8.4 8.4M753.5 430.8l8.4 -8.4M752.8 425.7l8.4 8.4M752.8 434.1l8.4 -8.4M749.1 416l8.4 8.4M749.1 424.4l8.4 -8.4M746.8 429.4l8.4 8.4M746.8 437.8l8.4 -8.4" stroke="#ff6800" stroke-width="3" stroke-linecap="round" fill="none"/>
<g fill="#ff6800"><circle cx="780.9" cy="440.4" r="5.6"/><circle cx="782.5" cy="436.3" r="5.6"/><circle cx="785.1" cy="438.9" r="5.6"/><circle cx="787.8" cy="438" r="5.6"/><circle cx="788" cy="435.6" r="5.6"/><circle cx="790.8" cy="436.6" r="5.6"/><circle cx="792.6" cy="436.7" r="5.6"/><circle cx="793.6" cy="433.9" r="5.6"/><circle cx="797" cy="434.1" r="5.6"/><circle cx="796.5" cy="435.3" r="5.6"/><circle cx="800.8" cy="436.1" r="5.6"/><circle cx="801.7" cy="437.3" r="5.6"/><circle cx="803.2" cy="440.2" r="5.6"/><circle cx="806.3" cy="438.5" r="5.6"/><circle cx="807.7" cy="441.6" r="5.6"/><circle cx="808.6" cy="442.9" r="5.6"/><circle cx="812.9" cy="443.8" r="5.6"/></g>
</g>
<g id="p3">
<g stroke="#d3d3d3" stroke-width="1.4" fill="none">
<path d="M121.1 551.2V986.1M184.9 551.2V986.1M248.7 551.2V986.1M312.5 551.2V986.1M376.3 551.2V986.1" stroke="#dbdbdb" stroke-width="1.8"/>
<path d="M67.3 941.9H425.5M67.3 858.7H425.5M67.3 775.5H425.5M67.3 692.3H425.5M67.3 609.1H425.5"/>
<rect x="67.3" y="551.2" width="358.2" height="434.9"/>
</g>
<rect x="448" y="946.6" width="20" height="39.9" fill="#000080"/>
<rect x="448" y="907" width="20" height="39.9" fill="#0000f3"/>
<rect x="448" y="867.5" width="20" height="39.9" fill="#004cff"/>
<rect x="448" y="828" width="20" height="39.9" fill="#00b3ff"/>
<rect x="448" y="788.4" width="20" height="39.9" fill="#29ffce"/>
<rect x="448" y="748.9" width="20" height="39.9" fill="#7bff7b"/>
<rect x="448" y="709.3" width="20" height="39.9" fill="#ceff29"/>
<rect x="448" y="669.8" width="20" height="39.9" fill="#ffc600"/>
<rect x="448" y="630.3" width="20" height="39.9" fill="#ff6800"/>
<rect x="448" y="590.7" width="20" height="39.9" fill="#f30900"/>
<rect x="448" y="551.2" width="20" height="39.9" fill="#800000"/>
<g stroke="#3a3a3a" stroke-width="0.2">
<text x="120.2" y="1008.6" font-size="15.2" text-anchor="middle">−40</text>
<text x="184" y="1008.6" font-size="15.2" text-anchor="middle">−20</text>
<text x="248.7" y="1008.6" font-size="15.2" text-anchor="middle">0</text>
<text x="312.5" y="1008.6" font-size="15.2" text-anchor="middle">20</text>
<text x="376.3" y="1008.6" font-size="15.2" text-anchor="middle">40</text>
<text x="55.8" y="948" font-size="15.2" text-anchor="end">−40</text>
<text x="55.8" y="864.8" font-size="15.2" text-anchor="end">−20</text>
<text x="55.8" y="781.6" font-size="15.2" text-anchor="end">0</text>
<text x="55.8" y="698.4" font-size="15.2" text-anchor="end">20</text>
<text x="55.8" y="615.2" font-size="15.2" text-anchor="end">40</text>
<text x="480.2" y="992.4" font-size="15.2">0</text>
<text x="480.2" y="944.1" font-size="15.2">1</text>
<text x="480.2" y="895.8" font-size="15.2">2</text>
<text x="480.2" y="847.4" font-size="15.2">3</text>
<text x="480.2" y="799.1" font-size="15.2">4</text>
<text x="480.2" y="750.8" font-size="15.2">5</text>
<text x="480.2" y="702.5" font-size="15.2">6</text>
<text x="480.2" y="654.1" font-size="15.2">7</text>
<text x="480.2" y="605.8" font-size="15.2">8</text>
<text x="480.2" y="557.5" font-size="15.2">9</text>
<text x="245.4" y="1029.7" font-size="16" text-anchor="middle" textLength="182.5" lengthAdjust="spacingAndGlyphs">Embedding Dimension 1</text>
<text x="21.6" y="771.2" font-size="16" text-anchor="middle" textLength="181.5" lengthAdjust="spacingAndGlyphs" transform="rotate(-90 21.6 771.2)">Embedding Dimension 2</text>
<text x="247.3" y="544.4" font-size="17.6" text-anchor="middle" textLength="164" lengthAdjust="spacingAndGlyphs">BASELINE+MKMMD</text>
<text x="458" y="544.2" font-size="17.5" text-anchor="middle" textLength="38" lengthAdjust="spacingAndGlyphs">label</text>
</g>
<polygon points="173.2,569.2 181.9,566.5 205.2,565.6 213.8,572 213.8,582.7 203.4,582.7 194.4,580.9 190.8,585.4 182.8,585.4 180,581.8 173.2,580" fill="#0000f3" stroke="#0000f3" stroke-width="1" stroke-linejoin="round"/>
<path d="M173 566.9h2.6v2.6h-2.6zM178.1 566.8h2.6v2.6h-2.6zM178 565.3h2.6v2.6h-2.6zM180.5 565.5h2.6v2.6h-2.6zM185 565.4h2.6v2.6h-2.6zM186.9 564.8h2.6v2.6h-2.6zM189.6 564.5h2.6v2.6h-2.6zM193.2 564.7h2.6v2.6h-2.6zM198.6 564.8h2.6v2.6h-2.6zM198.3 564.2h2.6v2.6h-2.6zM203.1 564.1h2.6v2.6h-2.6zM203.7 564.2h2.6v2.6h-2.6zM205.8 565.7h2.6v2.6h-2.6zM209.1 568.2h2.6v2.6h-2.6zM211.9 569.9h2.6v2.6h-2.6zM212.1 571.6h2.6v2.6h-2.6zM212.3 574.1h2.6v2.6h-2.6zM212.7 578.3h2.6v2.6h-2.6zM213 580h2.6v2.6h-2.6zM212 581.7h2.6v2.6h-2.6zM208.6 581.2h2.6v2.6h-2.6zM207.2 582.1h2.6v2.6h-2.6zM203.4 580.9h2.6v2.6h-2.6zM199.9 581.3h2.6v2.6h-2.6zM198.2 581.2h2.6v2.6h-2.6zM195.2 579.8h2.6v2.6h-2.6zM192.7 580.7h2.6v2.6h-2.6zM189.4 584h2.6v2.6h-2.6zM187.8 584.4h2.6v2.6h-2.6zM185.4 584h2.6v2.6h-2.6zM183.6 584.3h2.6v2.6h-2.6zM180.2 581.9h2.6v2.6h-2.6zM176.6 580h2.6v2.6h-2.6zM173.8 579.4h2.6v2.6h-2.6zM171.6 577.3h2.6v2.6h-2.6zM171.6 575.1h2.6v2.6h-2.6zM171.6 573h2.6v2.6h-2.6zM171.6 569.5h2.6v2.6h-2.6z" fill="#0000f3"/>
<polygon points="78.8,685.9 89.6,685.1 101.3,703.9 107.6,703.9 107.6,717.5 94.9,717.5 86,705.7 78.8,693.1" fill="#ceff29" stroke="#ceff29" stroke-width="1" stroke-linejoin="round"/>
<path d="M77.8 685.3h2.6v2.6h-2.6zM81.2 684.2h2.6v2.6h-2.6zM85.2 684.2h2.6v2.6h-2.6zM88.5 683.6h2.6v2.6h-2.6zM89 684.9h2.6v2.6h-2.6zM90.5 686.6h2.6v2.6h-2.6zM91.8 690.1h2.6v2.6h-2.6zM92.6 690.5h2.6v2.6h-2.6zM94.3 694.5h2.6v2.6h-2.6zM96.3 697h2.6v2.6h-2.6zM98 698.9h2.6v2.6h-2.6zM98.9 702.2h2.6v2.6h-2.6zM100.1 702.5h2.6v2.6h-2.6zM104.8 702.1h2.6v2.6h-2.6zM106.2 702.1h2.6v2.6h-2.6zM106.3 707.6h2.6v2.6h-2.6zM105.9 711h2.6v2.6h-2.6zM106.9 711.5h2.6v2.6h-2.6zM107 714.1h2.6v2.6h-2.6zM105.1 716h2.6v2.6h-2.6zM99.6 716.6h2.6v2.6h-2.6zM99.6 715.7h2.6v2.6h-2.6zM97.2 715.5h2.6v2.6h-2.6zM92.1 714.8h2.6v2.6h-2.6zM91.5 713.3h2.6v2.6h-2.6zM88.2 710.2h2.6v2.6h-2.6zM88 709h2.6v2.6h-2.6zM85.1 705h2.6v2.6h-2.6zM85 704.2h2.6v2.6h-2.6zM82.8 700.3h2.6v2.6h-2.6zM81.4 698.2h2.6v2.6h-2.6zM80.5 696.4h2.6v2.6h-2.6zM78.7 693.8h2.6v2.6h-2.6zM78 688.7h2.6v2.6h-2.6zM77.1 688h2.6v2.6h-2.6z" fill="#ceff29"/>
<polygon points="214.5,694.9 230.8,694.9 230.8,706.6 234.4,709.3 234.4,719.3 227.2,722.9 227.2,732.8 211.9,732.8 210.9,724.6 206.5,717.4 206.5,706.6 210.1,703 214.5,703" fill="#00b3ff" stroke="#00b3ff" stroke-width="1" stroke-linejoin="round"/>
<path d="M214 693.7h2.6v2.6h-2.6zM217.3 693.6h2.6v2.6h-2.6zM219.7 693h2.6v2.6h-2.6zM222.5 692.9h2.6v2.6h-2.6zM224.9 693.6h2.6v2.6h-2.6zM228.5 694.2h2.6v2.6h-2.6zM229.1 695.8h2.6v2.6h-2.6zM229.5 699.4h2.6v2.6h-2.6zM230.1 701.7h2.6v2.6h-2.6zM229.9 702.7h2.6v2.6h-2.6zM229.9 706.4h2.6v2.6h-2.6zM232.7 708.9h2.6v2.6h-2.6zM233.5 711h2.6v2.6h-2.6zM232.6 717.4h2.6v2.6h-2.6zM232.4 718.5h2.6v2.6h-2.6zM228.7 720.5h2.6v2.6h-2.6zM227.7 721.1h2.6v2.6h-2.6zM225.3 723.2h2.6v2.6h-2.6zM225.8 725h2.6v2.6h-2.6zM225.4 730.4h2.6v2.6h-2.6zM223.5 731.2h2.6v2.6h-2.6zM221.3 731.4h2.6v2.6h-2.6zM218.6 730.9h2.6v2.6h-2.6zM214.4 731.5h2.6v2.6h-2.6zM211.4 731.1h2.6v2.6h-2.6zM210 731.7h2.6v2.6h-2.6zM210.5 728.6h2.6v2.6h-2.6zM210.1 725.1h2.6v2.6h-2.6zM208.8 722.1h2.6v2.6h-2.6zM208.6 720.2h2.6v2.6h-2.6zM206.1 718.7h2.6v2.6h-2.6zM205.9 713h2.6v2.6h-2.6zM205.6 711.8h2.6v2.6h-2.6zM205.3 709.3h2.6v2.6h-2.6zM205.2 706.7h2.6v2.6h-2.6zM208.4 701.6h2.6v2.6h-2.6zM210.8 701.9h2.6v2.6h-2.6zM213.1 700.9h2.6v2.6h-2.6zM213.2 697.8h2.6v2.6h-2.6zM213.3 694.7h2.6v2.6h-2.6z" fill="#00b3ff"/>
<path d="M214.6 695.8l8.8 8.8M214.6 704.6l8.8 -8.8M216.6 723.2l8.8 8.8M216.6 732l8.8 -8.8M222.6 711.6l8.8 8.8M222.6 720.4l8.8 -8.8M226.6 709.6l8.8 8.8M226.6 718.4l8.8 -8.8M228.6 713.6l8.8 8.8M228.6 722.4l8.8 -8.8M224.6 715.6l8.8 8.8M224.6 724.4l8.8 -8.8" stroke="#ceff29" stroke-width="2.2" stroke-linecap="round" fill="none"/>
<polygon points="268.8,620.4 280.3,620.4 280.8,632 285.6,634.6 289.1,632 289.7,624.8 300.7,624.8 302.4,632 302.4,645.3 273.2,646.2 268.8,637.3" fill="#004cff" stroke="#004cff" stroke-width="1" stroke-linejoin="round"/>
<path d="M268.7 618.5h2.6v2.6h-2.6zM272.8 619.4h2.6v2.6h-2.6zM274.9 619.7h2.6v2.6h-2.6zM277.9 619.7h2.6v2.6h-2.6zM278.5 619.7h2.6v2.6h-2.6zM279.7 623.2h2.6v2.6h-2.6zM279 626.2h2.6v2.6h-2.6zM279.6 630.6h2.6v2.6h-2.6zM280.6 632.1h2.6v2.6h-2.6zM283.3 631.9h2.6v2.6h-2.6zM285.7 632.3h2.6v2.6h-2.6zM287.2 630.2h2.6v2.6h-2.6zM288.6 626.3h2.6v2.6h-2.6zM289.3 623h2.6v2.6h-2.6zM293.5 623.6h2.6v2.6h-2.6zM294.1 623.7h2.6v2.6h-2.6zM299 624.1h2.6v2.6h-2.6zM300.1 626.2h2.6v2.6h-2.6zM300.9 628.3h2.6v2.6h-2.6zM300.4 631.8h2.6v2.6h-2.6zM300.7 635h2.6v2.6h-2.6zM301.4 637.5h2.6v2.6h-2.6zM300.9 639.7h2.6v2.6h-2.6zM301.8 642h2.6v2.6h-2.6zM299.9 644h2.6v2.6h-2.6zM296.6 644.3h2.6v2.6h-2.6zM295 644.6h2.6v2.6h-2.6zM292.2 643.6h2.6v2.6h-2.6zM289.8 644.4h2.6v2.6h-2.6zM285.5 645.1h2.6v2.6h-2.6zM284.7 644.8h2.6v2.6h-2.6zM279.8 645h2.6v2.6h-2.6zM278.5 645.2h2.6v2.6h-2.6zM275.9 645.1h2.6v2.6h-2.6zM273.1 644.4h2.6v2.6h-2.6zM271.2 643h2.6v2.6h-2.6zM268.6 639.5h2.6v2.6h-2.6zM268.9 638.4h2.6v2.6h-2.6zM266.8 635.4h2.6v2.6h-2.6zM267.9 630.9h2.6v2.6h-2.6zM268.2 629.4h2.6v2.6h-2.6zM267.7 625.4h2.6v2.6h-2.6zM267.7 623.2h2.6v2.6h-2.6zM267.2 620.4h2.6v2.6h-2.6z" fill="#004cff"/>
<polygon points="387.1,727.7 399.7,727.7 405,734 413.1,736.7 413.1,747.5 408.6,751 408.6,760.1 397.9,760.1 393.4,753.7 391.6,746.5 382.6,742.9 382.6,734" fill="#000080" stroke="#000080" stroke-width="1" stroke-linejoin="round"/>
<path d="M387.6 725.9h2.6v2.6h-2.6zM389.8 726h2.6v2.6h-2.6zM393.5 726.4h2.6v2.6h-2.6zM396 726h2.6v2.6h-2.6zM399.2 728.3h2.6v2.6h-2.6zM401.4 730.4h2.6v2.6h-2.6zM403.1 732.1h2.6v2.6h-2.6zM404.1 732.6h2.6v2.6h-2.6zM406.9 734.1h2.6v2.6h-2.6zM409.7 734.8h2.6v2.6h-2.6zM412.2 735.1h2.6v2.6h-2.6zM412.3 738.7h2.6v2.6h-2.6zM412.5 742.3h2.6v2.6h-2.6zM411.8 745.8h2.6v2.6h-2.6zM409.8 747.8h2.6v2.6h-2.6zM407.9 749.9h2.6v2.6h-2.6zM408 750.9h2.6v2.6h-2.6zM407.5 753.4h2.6v2.6h-2.6zM406.8 756.3h2.6v2.6h-2.6zM405.1 758.8h2.6v2.6h-2.6zM404 759h2.6v2.6h-2.6zM401.9 758.1h2.6v2.6h-2.6zM398.7 759.3h2.6v2.6h-2.6zM395 756h2.6v2.6h-2.6zM392 753.2h2.6v2.6h-2.6zM391.4 752.7h2.6v2.6h-2.6zM390.3 747.6h2.6v2.6h-2.6zM387.8 743.5h2.6v2.6h-2.6zM386.7 743.4h2.6v2.6h-2.6zM383.1 742.9h2.6v2.6h-2.6zM381 739.3h2.6v2.6h-2.6zM380.9 736.5h2.6v2.6h-2.6zM380.9 734.7h2.6v2.6h-2.6zM382.6 730.2h2.6v2.6h-2.6zM386.3 726.3h2.6v2.6h-2.6z" fill="#000080"/>
<polygon points="316.4,752 327.7,752 328.1,765 324.5,775.8 314.6,776.7 313.7,789.2 303.8,789.8 296.6,784.8 296.6,774.8 299.3,771.2 305.6,770.3 308.3,759.5" fill="#800000" stroke="#800000" stroke-width="1" stroke-linejoin="round"/>
<path d="M317.1 750.3h2.6v2.6h-2.6zM319.7 750.6h2.6v2.6h-2.6zM322.5 750.2h2.6v2.6h-2.6zM325.4 751.1h2.6v2.6h-2.6zM327.1 750.3h2.6v2.6h-2.6zM326.6 755.8h2.6v2.6h-2.6zM326.3 755.8h2.6v2.6h-2.6zM326.7 760.1h2.6v2.6h-2.6zM326.1 761.1h2.6v2.6h-2.6zM326.2 765.5h2.6v2.6h-2.6zM326.3 767.2h2.6v2.6h-2.6zM324.7 771.6h2.6v2.6h-2.6zM324 771.4h2.6v2.6h-2.6zM320.7 774.2h2.6v2.6h-2.6zM318.8 775h2.6v2.6h-2.6zM316.8 774.5h2.6v2.6h-2.6zM313.8 778.4h2.6v2.6h-2.6zM312.9 781.1h2.6v2.6h-2.6zM313.1 783.5h2.6v2.6h-2.6zM313.2 785.4h2.6v2.6h-2.6zM310.1 787.8h2.6v2.6h-2.6zM305.3 789h2.6v2.6h-2.6zM303.1 787.9h2.6v2.6h-2.6zM301.7 787.1h2.6v2.6h-2.6zM298.8 786.8h2.6v2.6h-2.6zM296.1 784h2.6v2.6h-2.6zM294.7 781.6h2.6v2.6h-2.6zM295.7 777h2.6v2.6h-2.6zM294.7 777.4h2.6v2.6h-2.6zM295.5 773.1h2.6v2.6h-2.6zM300.3 769.2h2.6v2.6h-2.6zM303 768.7h2.6v2.6h-2.6zM304.9 768.6h2.6v2.6h-2.6zM305.1 765.6h2.6v2.6h-2.6zM306.2 761.7h2.6v2.6h-2.6zM306.9 759.6h2.6v2.6h-2.6zM307.9 756.7h2.6v2.6h-2.6zM309.5 755.6h2.6v2.6h-2.6zM310.5 753.8h2.6v2.6h-2.6zM313.8 752.4h2.6v2.6h-2.6z" fill="#800000"/>
<polygon points="336.7,876.4 347.8,876.4 348.2,890.2 355.2,893.6 365.5,902.8 365.5,912.1 354.1,912.1 344.8,904 343.6,897.1 329.8,897.1 329.3,882.2 336.7,881" fill="#f30900" stroke="#f30900" stroke-width="1" stroke-linejoin="round"/>
<path d="M337.1 875.7h2.6v2.6h-2.6zM339.9 875h2.6v2.6h-2.6zM340.6 875.3h2.6v2.6h-2.6zM345.4 875.3h2.6v2.6h-2.6zM346.6 876.6h2.6v2.6h-2.6zM346.1 878.4h2.6v2.6h-2.6zM346.6 883.8h2.6v2.6h-2.6zM347.1 884.3h2.6v2.6h-2.6zM346.5 886.6h2.6v2.6h-2.6zM347.2 889.3h2.6v2.6h-2.6zM353.1 892.7h2.6v2.6h-2.6zM354.2 893h2.6v2.6h-2.6zM358.4 896.5h2.6v2.6h-2.6zM358.7 895.5h2.6v2.6h-2.6zM360.8 898.6h2.6v2.6h-2.6zM362.2 900.1h2.6v2.6h-2.6zM363.5 904h2.6v2.6h-2.6zM364.3 905.3h2.6v2.6h-2.6zM364.2 910.3h2.6v2.6h-2.6zM363.9 911.4h2.6v2.6h-2.6zM360.7 911.1h2.6v2.6h-2.6zM355.1 910.3h2.6v2.6h-2.6zM353.7 911.4h2.6v2.6h-2.6zM352 910.1h2.6v2.6h-2.6zM349.1 907.9h2.6v2.6h-2.6zM348.1 906.3h2.6v2.6h-2.6zM344.8 904h2.6v2.6h-2.6zM344 901.9h2.6v2.6h-2.6zM342.4 895.7h2.6v2.6h-2.6zM340.9 896.5h2.6v2.6h-2.6zM338.9 896.2h2.6v2.6h-2.6zM335.5 895.2h2.6v2.6h-2.6zM331.9 896.4h2.6v2.6h-2.6zM329.1 895.6h2.6v2.6h-2.6zM328 895.4h2.6v2.6h-2.6zM328.3 891.5h2.6v2.6h-2.6zM328.8 888.4h2.6v2.6h-2.6zM328.4 885.8h2.6v2.6h-2.6zM328.1 881.6h2.6v2.6h-2.6zM328.8 881.1h2.6v2.6h-2.6zM334.5 879.7h2.6v2.6h-2.6zM335.5 879.7h2.6v2.6h-2.6z" fill="#f30900"/>
<polygon points="138.2,804.8 149.2,804.8 149.2,819.5 131.8,849.8 118.9,850.3 118.9,839.7 129.1,819.5" fill="#ffc600" stroke="#ffc600" stroke-width="1" stroke-linejoin="round"/>
<path d="M137.1 803h2.6v2.6h-2.6zM140.6 803h2.6v2.6h-2.6zM143 804.1h2.6v2.6h-2.6zM146.3 803.4h2.6v2.6h-2.6zM147.7 806.4h2.6v2.6h-2.6zM147.6 808.1h2.6v2.6h-2.6zM148.5 809.2h2.6v2.6h-2.6zM147.9 813.9h2.6v2.6h-2.6zM147.4 814.9h2.6v2.6h-2.6zM147.4 818.2h2.6v2.6h-2.6zM145.6 821.7h2.6v2.6h-2.6zM145.4 823h2.6v2.6h-2.6zM142.2 826.9h2.6v2.6h-2.6zM141 830.3h2.6v2.6h-2.6zM139.9 832.5h2.6v2.6h-2.6zM140.1 832.7h2.6v2.6h-2.6zM137.2 836h2.6v2.6h-2.6zM136.3 838.7h2.6v2.6h-2.6zM134.9 840.9h2.6v2.6h-2.6zM132.5 844.1h2.6v2.6h-2.6zM132.1 845.4h2.6v2.6h-2.6zM131.4 846.3h2.6v2.6h-2.6zM128.2 848.9h2.6v2.6h-2.6zM124.9 848.8h2.6v2.6h-2.6zM123.7 848.8h2.6v2.6h-2.6zM119.9 848.5h2.6v2.6h-2.6zM117.6 847.1h2.6v2.6h-2.6zM117.3 843.9h2.6v2.6h-2.6zM117.3 842.3h2.6v2.6h-2.6zM117.2 839.8h2.6v2.6h-2.6zM118.4 837.3h2.6v2.6h-2.6zM119.5 833.2h2.6v2.6h-2.6zM120.8 832.1h2.6v2.6h-2.6zM121.7 830h2.6v2.6h-2.6zM123.7 825.9h2.6v2.6h-2.6zM125.5 823.5h2.6v2.6h-2.6zM125.1 822.9h2.6v2.6h-2.6zM127.7 819.1h2.6v2.6h-2.6zM128.5 817.6h2.6v2.6h-2.6zM130.1 813.9h2.6v2.6h-2.6zM131.7 812.3h2.6v2.6h-2.6zM132.9 809.3h2.6v2.6h-2.6zM134.9 807.4h2.6v2.6h-2.6zM136.8 803.2h2.6v2.6h-2.6z" fill="#ffc600"/>
<polygon points="215.6,836.5 226.4,833.5 236.3,833.5 237.2,838.4 242.6,840.1 244.5,846.4 244.5,858.1 233.6,858.1 230.9,854.5 228.2,857.2 215.6,857.2 213.9,852.7 207.6,852.7 208.1,842.4" fill="#29ffce" stroke="#29ffce" stroke-width="1" stroke-linejoin="round"/>
<path d="M215.1 835.3h2.6v2.6h-2.6zM219.4 833.8h2.6v2.6h-2.6zM220.8 833.9h2.6v2.6h-2.6zM225.7 832.8h2.6v2.6h-2.6zM224.9 832.8h2.6v2.6h-2.6zM229.8 832.3h2.6v2.6h-2.6zM234.5 832h2.6v2.6h-2.6zM235.9 832.6h2.6v2.6h-2.6zM236 836.7h2.6v2.6h-2.6zM237.9 838h2.6v2.6h-2.6zM241.4 839.8h2.6v2.6h-2.6zM242.9 842.6h2.6v2.6h-2.6zM243 846.9h2.6v2.6h-2.6zM242.8 849.9h2.6v2.6h-2.6zM242.9 853.5h2.6v2.6h-2.6zM242.5 854.9h2.6v2.6h-2.6zM240.7 856.1h2.6v2.6h-2.6zM239.7 856.1h2.6v2.6h-2.6zM235.7 857.2h2.6v2.6h-2.6zM233.3 857.3h2.6v2.6h-2.6zM230.7 855.2h2.6v2.6h-2.6zM228.4 855.3h2.6v2.6h-2.6zM226.2 855.7h2.6v2.6h-2.6zM222.7 856.3h2.6v2.6h-2.6zM219.1 856.6h2.6v2.6h-2.6zM216.1 856.5h2.6v2.6h-2.6zM213.7 853.7h2.6v2.6h-2.6zM210.9 851.5h2.6v2.6h-2.6zM208.3 850.7h2.6v2.6h-2.6zM207.1 847.5h2.6v2.6h-2.6zM206.2 847h2.6v2.6h-2.6zM206.4 843.7h2.6v2.6h-2.6zM206.6 841.1h2.6v2.6h-2.6zM210.1 838.3h2.6v2.6h-2.6zM213.7 835.2h2.6v2.6h-2.6z" fill="#29ffce"/>
<polygon points="229.8,948.6 245.9,947.7 249.5,945.6 263.9,946.5 264.3,957.7 256.3,958 255.8,967.5 242.4,968.1 241.4,970.5 232.4,970.5 229.4,961.2" fill="#ff6800" stroke="#ff6800" stroke-width="1" stroke-linejoin="round"/>
<path d="M229.8 947.3h2.6v2.6h-2.6zM232.7 946.7h2.6v2.6h-2.6zM235.4 947.1h2.6v2.6h-2.6zM238.7 946.5h2.6v2.6h-2.6zM239.6 946.1h2.6v2.6h-2.6zM243.1 946.6h2.6v2.6h-2.6zM248.8 944.8h2.6v2.6h-2.6zM249 944.9h2.6v2.6h-2.6zM252.2 944.2h2.6v2.6h-2.6zM255.3 945.4h2.6v2.6h-2.6zM259.4 944.8h2.6v2.6h-2.6zM261.2 945.2h2.6v2.6h-2.6zM262.1 946.6h2.6v2.6h-2.6zM262.4 948.9h2.6v2.6h-2.6zM263.4 952.7h2.6v2.6h-2.6zM262.4 953.4h2.6v2.6h-2.6zM260.9 957.1h2.6v2.6h-2.6zM260.3 956h2.6v2.6h-2.6zM255.3 956.3h2.6v2.6h-2.6zM255.5 957.9h2.6v2.6h-2.6zM255.4 960.5h2.6v2.6h-2.6zM255.3 964h2.6v2.6h-2.6zM252.9 965.6h2.6v2.6h-2.6zM250.2 966.7h2.6v2.6h-2.6zM247.1 966.2h2.6v2.6h-2.6zM245.3 966.6h2.6v2.6h-2.6zM242.2 967.2h2.6v2.6h-2.6zM239.9 969.8h2.6v2.6h-2.6zM237.6 968.9h2.6v2.6h-2.6zM235.1 969.4h2.6v2.6h-2.6zM231.8 969.5h2.6v2.6h-2.6zM230.1 967h2.6v2.6h-2.6zM228.9 963.9h2.6v2.6h-2.6zM228.4 962.4h2.6v2.6h-2.6zM227.5 960.1h2.6v2.6h-2.6zM228 955.9h2.6v2.6h-2.6zM228.7 952.6h2.6v2.6h-2.6zM228.8 947.7h2.6v2.6h-2.6z" fill="#ff6800"/>
</g>
<g id="p4">
<g stroke="#d3d3d3" stroke-width="1.4" fill="none">
<path d="M665.7 551.2V986.1M734.9 551.2V986.1M804 551.2V986.1M873.2 551.2V986.1M942.4 551.2V986.1" stroke="#dbdbdb" stroke-width="1.8"/>
<path d="M603.5 912.5H960M603.5 828.7H960M603.5 745H960M603.5 661.2H960M603.5 577.4H960"/>
<rect x="603.5" y="551.2" width="356.5" height="434.9"/>
</g>
<rect x="982.4" y="946.6" width="21.6" height="39.9" fill="#000080"/>
<rect x="982.4" y="907" width="21.6" height="39.9" fill="#0000f3"/>
<rect x="982.4" y="867.5" width="21.6" height="39.9" fill="#004cff"/>
<rect x="982.4" y="828" width="21.6" height="39.9" fill="#00b3ff"/>
<rect x="982.4" y="788.4" width="21.6" height="39.9" fill="#29ffce"/>
<rect x="982.4" y="748.9" width="21.6" height="39.9" fill="#7bff7b"/>
<rect x="982.4" y="709.3" width="21.6" height="39.9" fill="#ceff29"/>
<rect x="982.4" y="669.8" width="21.6" height="39.9" fill="#ffc600"/>
<rect x="982.4" y="630.3" width="21.6" height="39.9" fill="#ff6800"/>
<rect x="982.4" y="590.7" width="21.6" height="39.9" fill="#f30900"/>
<rect x="982.4" y="551.2" width="21.6" height="39.9" fill="#800000"/>
<g stroke="#3a3a3a" stroke-width="0.2">
<text x="664.8" y="1008.6" font-size="15.2" text-anchor="middle">−40</text>
<text x="734" y="1008.6" font-size="15.2" text-anchor="middle">−20</text>
<text x="804" y="1008.6" font-size="15.2" text-anchor="middle">0</text>
<text x="873.2" y="1008.6" font-size="15.2" text-anchor="middle">20</text>
<text x="942.4" y="1008.6" font-size="15.2" text-anchor="middle">40</text>
<text x="592.5" y="918.6" font-size="15.2" text-anchor="end">−40</text>
<text x="592.5" y="834.8" font-size="15.2" text-anchor="end">−20</text>
<text x="592.5" y="751.1" font-size="15.2" text-anchor="end">0</text>
<text x="592.5" y="667.3" font-size="15.2" text-anchor="end">20</text>
<text x="592.5" y="583.5" font-size="15.2" text-anchor="end">40</text>
<text x="1016.2" y="992.4" font-size="15.2">0</text>
<text x="1016.2" y="944.1" font-size="15.2">1</text>
<text x="1016.2" y="895.8" font-size="15.2">2</text>
<text x="1016.2" y="847.4" font-size="15.2">3</text>
<text x="1016.2" y="799.1" font-size="15.2">4</text>
<text x="1016.2" y="750.8" font-size="15.2">5</text>
<text x="1016.2" y="702.5" font-size="15.2">6</text>
<text x="1016.2" y="654.1" font-size="15.2">7</text>
<text x="1016.2" y="605.8" font-size="15.2">8</text>
<text x="1016.2" y="557.5" font-size="15.2">9</text>
<text x="780.8" y="1029.7" font-size="16" text-anchor="middle" textLength="182.5" lengthAdjust="spacingAndGlyphs">Embedding Dimension 1</text>
<text x="556" y="771.2" font-size="16" text-anchor="middle" textLength="181.5" lengthAdjust="spacingAndGlyphs" transform="rotate(-90 556 771.2)">Embedding Dimension 2</text>
<text x="780.5" y="545.2" font-size="19.5" text-anchor="middle" textLength="75" lengthAdjust="spacingAndGlyphs">DSACNN</text>
<text x="993.2" y="544.2" font-size="17.5" text-anchor="middle" textLength="38" lengthAdjust="spacingAndGlyphs">label</text>
</g>
<path d="M750.9 592.2l8.6 8.6M750.9 600.8l8.6 -8.6M746.8 595.6l8.6 8.6M746.8 604.2l8.6 -8.6M740.5 593.7l8.6 8.6M740.5 602.3l8.6 -8.6M738.3 590.5l8.6 8.6M738.3 599.1l8.6 -8.6M738.6 585.9l8.6 8.6M738.6 594.5l8.6 -8.6M741.2 581.1l8.6 8.6M741.2 589.7l8.6 -8.6M746.7 579.4l8.6 8.6M746.7 588l8.6 -8.6M750.7 579.5l8.6 8.6M750.7 588.1l8.6 -8.6M753 581.5l8.6 8.6M753 590.1l8.6 -8.6M752.6 588.1l8.6 8.6M752.6 596.7l8.6 -8.6M742.4 586.6l8.6 8.6M742.4 595.2l8.6 -8.6M747.4 593.1l8.6 8.6M747.4 601.7l8.6 -8.6M745.7 583.5l8.6 8.6M745.7 592.1l8.6 -8.6M744.8 583.8l8.6 8.6M744.8 592.4l8.6 -8.6M742.9 580.9l8.6 8.6M742.9 589.5l8.6 -8.6M745.6 593.3l8.6 8.6M745.6 601.9l8.6 -8.6M744 592.5l8.6 8.6M744 601.1l8.6 -8.6M749.1 590.1l8.6 8.6M749.1 598.7l8.6 -8.6M749.4 584.8l8.6 8.6M749.4 593.4l8.6 -8.6M745.8 583.8l8.6 8.6M745.8 592.4l8.6 -8.6M749.6 581.7l8.6 8.6M749.6 590.3l8.6 -8.6M747.8 591.7l8.6 8.6M747.8 600.3l8.6 -8.6M746.6 588l8.6 8.6M746.6 596.6l8.6 -8.6M747.8 585.6l8.6 8.6M747.8 594.2l8.6 -8.6M743.5 583.3l8.6 8.6M743.5 591.9l8.6 -8.6M749.7 582.7l8.6 8.6M749.7 591.3l8.6 -8.6M747.2 585.7l8.6 8.6M747.2 594.3l8.6 -8.6M746.5 593l8.6 8.6M746.5 601.6l8.6 -8.6M739.7 586.9l8.6 8.6M739.7 595.5l8.6 -8.6M742 592.8l8.6 8.6M742 601.4l8.6 -8.6M747.8 587.1l8.6 8.6M747.8 595.7l8.6 -8.6M748 581.6l8.6 8.6M748 590.2l8.6 -8.6" stroke="#ceff29" stroke-width="2.6" stroke-linecap="round" fill="none"/>
<g fill="#ceff29"><circle cx="732.5" cy="600.8" r="5.6"/><circle cx="733.4" cy="595.5" r="5.6"/><circle cx="737.1" cy="590.3" r="5.6"/><circle cx="740.7" cy="588.6" r="5.6"/><circle cx="743.8" cy="588.4" r="5.6"/><circle cx="747" cy="592.7" r="5.6"/><circle cx="746.9" cy="596.5" r="5.6"/><circle cx="746.1" cy="602.3" r="5.6"/><circle cx="743.3" cy="605.5" r="5.6"/><circle cx="739.9" cy="608.3" r="5.6"/><circle cx="737.1" cy="608.1" r="5.6"/><circle cx="733" cy="605.2" r="5.6"/><circle cx="741.7" cy="603.2" r="5.6"/><circle cx="744.8" cy="593.7" r="5.6"/><circle cx="741.7" cy="598.7" r="5.6"/><circle cx="738.6" cy="593" r="5.6"/><circle cx="737.5" cy="600.1" r="5.6"/><circle cx="741.4" cy="594.2" r="5.6"/><circle cx="737.7" cy="599.1" r="5.6"/><circle cx="742" cy="592.5" r="5.6"/><circle cx="740.2" cy="605.9" r="5.6"/><circle cx="745.4" cy="600.6" r="5.6"/><circle cx="740" cy="604.8" r="5.6"/><circle cx="736.6" cy="604" r="5.6"/></g>
<path d="M747.7 691.2l8.6 8.6M747.7 699.8l8.6 -8.6M747.7 694.8l8.6 8.6M747.7 703.4l8.6 -8.6M746.6 698.2l8.6 8.6M746.6 706.8l8.6 -8.6M744 700l8.6 8.6M744 708.6l8.6 -8.6M740.2 701.1l8.6 8.6M740.2 709.7l8.6 -8.6M736.2 699l8.6 8.6M736.2 707.6l8.6 -8.6M733.9 694.5l8.6 8.6M733.9 703.1l8.6 -8.6M736.3 689.9l8.6 8.6M736.3 698.5l8.6 -8.6M740.3 687.8l8.6 8.6M740.3 696.4l8.6 -8.6M745.9 688.3l8.6 8.6M745.9 696.9l8.6 -8.6M738.4 690.4l8.6 8.6M738.4 699l8.6 -8.6M742.8 690l8.6 8.6M742.8 698.6l8.6 -8.6M739.9 692.1l8.6 8.6M739.9 700.7l8.6 -8.6M742.5 696.9l8.6 8.6M742.5 705.5l8.6 -8.6M747.2 696.4l8.6 8.6M747.2 705l8.6 -8.6M741.9 691.8l8.6 8.6M741.9 700.4l8.6 -8.6M743.6 693.9l8.6 8.6M743.6 702.5l8.6 -8.6M742.3 689.2l8.6 8.6M742.3 697.8l8.6 -8.6M739.3 691.3l8.6 8.6M739.3 699.9l8.6 -8.6M739.1 695.1l8.6 8.6M739.1 703.7l8.6 -8.6M741.3 692.1l8.6 8.6M741.3 700.7l8.6 -8.6M736.1 693.8l8.6 8.6M736.1 702.4l8.6 -8.6M746.6 694.5l8.6 8.6M746.6 703.1l8.6 -8.6M741.5 696.7l8.6 8.6M741.5 705.3l8.6 -8.6M736 693.7l8.6 8.6M736 702.3l8.6 -8.6M745.3 698.9l8.6 8.6M745.3 707.5l8.6 -8.6M736 694.2l8.6 8.6M736 702.8l8.6 -8.6M741.5 693.5l8.6 8.6M741.5 702.1l8.6 -8.6M736.6 697.4l8.6 8.6M736.6 706l8.6 -8.6M741.3 693.1l8.6 8.6M741.3 701.7l8.6 -8.6" stroke="#0000f3" stroke-width="2.6" stroke-linecap="round" fill="none"/>
<g fill="#0000f3"><circle cx="752.2" cy="699.8" r="5.6"/><circle cx="757.2" cy="697.3" r="5.6"/><circle cx="762.7" cy="698.3" r="5.6"/><circle cx="765.2" cy="703" r="5.6"/><circle cx="761.9" cy="708.3" r="5.6"/><circle cx="760.2" cy="709.5" r="5.6"/><circle cx="752.6" cy="706.8" r="5.6"/><circle cx="751" cy="702.5" r="5.6"/><circle cx="761.9" cy="700" r="5.6"/><circle cx="754.2" cy="704.4" r="5.6"/><circle cx="754.6" cy="706" r="5.6"/><circle cx="755.7" cy="702.9" r="5.6"/><circle cx="763" cy="702.3" r="5.6"/><circle cx="758.8" cy="699.8" r="5.6"/><circle cx="759.7" cy="707.4" r="5.6"/><circle cx="758.5" cy="705.4" r="5.6"/><circle cx="751.5" cy="717" r="5.6"/><circle cx="753" cy="713" r="5.6"/></g>
<path d="M847 569.8l8.6 8.6M847 578.4l8.6 -8.6M849.1 570.4l8.6 8.6M849.1 579l8.6 -8.6M850 570.7l8.6 8.6M850 579.3l8.6 -8.6M846.8 572.1l8.6 8.6M846.8 580.7l8.6 -8.6M849.4 572.4l8.6 8.6M849.4 581l8.6 -8.6M847.6 573.3l8.6 8.6M847.6 581.9l8.6 -8.6M845 574.5l8.6 8.6M845 583.1l8.6 -8.6M849.4 574.3l8.6 8.6M849.4 582.9l8.6 -8.6M846.5 575.5l8.6 8.6M846.5 584.1l8.6 -8.6M845.1 576.6l8.6 8.6M845.1 585.2l8.6 -8.6M850.9 576.1l8.6 8.6M850.9 584.7l8.6 -8.6M848 577.2l8.6 8.6M848 585.8l8.6 -8.6M845.4 578.6l8.6 8.6M845.4 587.2l8.6 -8.6M851.1 578l8.6 8.6M851.1 586.6l8.6 -8.6M849.4 579l8.6 8.6M849.4 587.6l8.6 -8.6M848.1 580l8.6 8.6M848.1 588.6l8.6 -8.6M853 579.6l8.6 8.6M853 588.2l8.6 -8.6M851.8 580.7l8.6 8.6M851.8 589.3l8.6 -8.6M848.6 581.7l8.6 8.6M848.6 590.3l8.6 -8.6M852.3 581.8l8.6 8.6M852.3 590.4l8.6 -8.6M850.8 582.7l8.6 8.6M850.8 591.3l8.6 -8.6M848.8 583.8l8.6 8.6M848.8 592.4l8.6 -8.6M852.6 583.8l8.6 8.6M852.6 592.4l8.6 -8.6M849.7 585.1l8.6 8.6M849.7 593.7l8.6 -8.6M848.5 585.9l8.6 8.6M848.5 594.5l8.6 -8.6M853.4 585.6l8.6 8.6M853.4 594.2l8.6 -8.6M851.2 586.7l8.6 8.6M851.2 595.3l8.6 -8.6M847.5 588.4l8.6 8.6M847.5 597l8.6 -8.6M845.2 565.5l8.6 8.6M845.2 574.1l8.6 -8.6" stroke="#004cff" stroke-width="2.6" stroke-linecap="round" fill="none"/>
<g fill="#004cff"><circle cx="848.8" cy="602.8" r="5.6"/><circle cx="847.7" cy="600" r="5.6"/><circle cx="850.7" cy="593.9" r="5.6"/><circle cx="853.3" cy="593.5" r="5.6"/><circle cx="857.4" cy="596.9" r="5.6"/><circle cx="857.5" cy="602" r="5.6"/><circle cx="853.7" cy="605" r="5.6"/><circle cx="852.8" cy="597.1" r="5.6"/><circle cx="855.1" cy="597.5" r="5.6"/><circle cx="856.3" cy="599.7" r="5.6"/><circle cx="852.3" cy="603.7" r="5.6"/><circle cx="850.8" cy="603.8" r="5.6"/><circle cx="854.7" cy="596.3" r="5.6"/><circle cx="852.3" cy="603" r="5.6"/></g>
<g fill="#000080"><circle cx="923.2" cy="679.8" r="5.6"/><circle cx="924.5" cy="681.5" r="5.6"/><circle cx="922.5" cy="682" r="5.6"/></g>
<path d="M917.4 696.5l8.6 8.6M917.4 705.1l8.6 -8.6M917.7 688.8l8.6 8.6M917.7 697.4l8.6 -8.6M918 687.7l8.6 8.6M918 696.3l8.6 -8.6M918.5 696.6l8.6 8.6M918.5 705.2l8.6 -8.6M918.7 687.9l8.6 8.6M918.7 696.5l8.6 -8.6M919.2 692.5l8.6 8.6M919.2 701.1l8.6 -8.6M919.4 693.7l8.6 8.6M919.4 702.3l8.6 -8.6M919.7 688.1l8.6 8.6M919.7 696.7l8.6 -8.6M920.2 693.1l8.6 8.6M920.2 701.7l8.6 -8.6M920.5 693.9l8.6 8.6M920.5 702.5l8.6 -8.6M920.7 686.6l8.6 8.6M920.7 695.2l8.6 -8.6M921.2 692.6l8.6 8.6M921.2 701.2l8.6 -8.6M921.5 692.5l8.6 8.6M921.5 701.1l8.6 -8.6M921.6 685.6l8.6 8.6M921.6 694.2l8.6 -8.6M922.1 689.3l8.6 8.6M922.1 697.9l8.6 -8.6M922.5 692.5l8.6 8.6M922.5 701.1l8.6 -8.6M922.7 683.8l8.6 8.6M922.7 692.4l8.6 -8.6M923.2 694l8.6 8.6M923.2 702.6l8.6 -8.6M923.5 691.3l8.6 8.6M923.5 699.9l8.6 -8.6M923.7 686.3l8.6 8.6M923.7 694.9l8.6 -8.6M924.3 693.6l8.6 8.6M924.3 702.2l8.6 -8.6M924.7 692l8.6 8.6M924.7 700.6l8.6 -8.6M924.7 684.8l8.6 8.6M924.7 693.4l8.6 -8.6M925.1 686.1l8.6 8.6M925.1 694.7l8.6 -8.6M925.5 692l8.6 8.6M925.5 700.6l8.6 -8.6M925.6 682l8.6 8.6M925.6 690.6l8.6 -8.6M926.1 686.3l8.6 8.6M926.1 694.9l8.6 -8.6M926.6 691.7l8.6 8.6M926.6 700.3l8.6 -8.6M926.8 683.4l8.6 8.6M926.8 692l8.6 -8.6M927.3 688.8l8.6 8.6M927.3 697.4l8.6 -8.6M927.6 693.8l8.6 8.6M927.6 702.4l8.6 -8.6M927.8 685.2l8.6 8.6M927.8 693.8l8.6 -8.6M928.3 692.7l8.6 8.6M928.3 701.3l8.6 -8.6M928.7 694.7l8.6 8.6M928.7 703.3l8.6 -8.6M928.8 684.4l8.6 8.6M928.8 693l8.6 -8.6M929.3 692.7l8.6 8.6M929.3 701.3l8.6 -8.6M929.9 696.2l8.6 8.6M929.9 704.8l8.6 -8.6M929.9 686.9l8.6 8.6M929.9 695.5l8.6 -8.6M930.3 692l8.6 8.6M930.3 700.6l8.6 -8.6M930.8 696.8l8.6 8.6M930.8 705.4l8.6 -8.6M930.8 686.2l8.6 8.6M930.8 694.8l8.6 -8.6M931.3 691.1l8.6 8.6M931.3 699.7l8.6 -8.6M931.8 694.6l8.6 8.6M931.8 703.2l8.6 -8.6M931.9 686.8l8.6 8.6M931.9 695.4l8.6 -8.6M932.5 693l8.6 8.6M932.5 701.6l8.6 -8.6M932.8 693.4l8.6 8.6M932.8 702l8.6 -8.6M933 687l8.6 8.6M933 695.6l8.6 -8.6M933.3 691l8.6 8.6M933.3 699.6l8.6 -8.6M933.8 697.2l8.6 8.6M933.8 705.8l8.6 -8.6M934.1 687.4l8.6 8.6M934.1 696l8.6 -8.6" stroke="#000080" stroke-width="2.6" stroke-linecap="round" fill="none"/>
<polygon points="830.9,697.3 847.9,697.3 850.6,704.5 846.9,715.3 836.2,722.5 820.1,722.5 819.2,708.1 827.3,702.7" fill="#800000" stroke="#800000" stroke-width="1" stroke-linejoin="round"/>
<path d="M829.6 694.9h3.4v3.4h-3.4zM833.3 695.1h3.4v3.4h-3.4zM836.3 695.7h3.4v3.4h-3.4zM840.3 695.4h3.4v3.4h-3.4zM841.6 696.5h3.4v3.4h-3.4zM844.1 696h3.4v3.4h-3.4zM846.7 696.9h3.4v3.4h-3.4zM849 700.5h3.4v3.4h-3.4zM848.1 704.7h3.4v3.4h-3.4zM846.7 705.6h3.4v3.4h-3.4zM846.2 710.8h3.4v3.4h-3.4zM845.6 714.4h3.4v3.4h-3.4zM843.7 715.2h3.4v3.4h-3.4zM842.8 715.9h3.4v3.4h-3.4zM838.2 719.3h3.4v3.4h-3.4zM836 719h3.4v3.4h-3.4zM831.4 720.6h3.4v3.4h-3.4zM831.2 719.7h3.4v3.4h-3.4zM828.3 720.1h3.4v3.4h-3.4zM823.3 720.2h3.4v3.4h-3.4zM822.9 721.4h3.4v3.4h-3.4zM820.6 721.7h3.4v3.4h-3.4zM819.2 720.6h3.4v3.4h-3.4zM818.3 715.6h3.4v3.4h-3.4zM817.2 714h3.4v3.4h-3.4zM817 711h3.4v3.4h-3.4zM818.1 708.3h3.4v3.4h-3.4zM818.9 705.6h3.4v3.4h-3.4zM819.7 703.8h3.4v3.4h-3.4zM823.5 701.1h3.4v3.4h-3.4zM827 699.7h3.4v3.4h-3.4zM827.8 696.3h3.4v3.4h-3.4z" fill="#800000"/>
<path d="M613.4 757.1l8.6 8.6M613.4 765.7l8.6 -8.6M614.5 754.5l8.6 8.6M614.5 763.1l8.6 -8.6M616.1 756.1l8.6 8.6M616.1 764.7l8.6 -8.6M617.4 756.5l8.6 8.6M617.4 765.1l8.6 -8.6M618.1 754.6l8.6 8.6M618.1 763.2l8.6 -8.6M619.5 755.5l8.6 8.6M619.5 764.1l8.6 -8.6M621.1 756.3l8.6 8.6M621.1 764.9l8.6 -8.6M621.7 753.4l8.6 8.6M621.7 762l8.6 -8.6M623 753.4l8.6 8.6M623 762l8.6 -8.6M624.5 754.7l8.6 8.6M624.5 763.3l8.6 -8.6M624.8 751.5l8.6 8.6M624.8 760.1l8.6 -8.6M627 753.7l8.6 8.6M627 762.3l8.6 -8.6M628.3 753.6l8.6 8.6M628.3 762.2l8.6 -8.6M629.5 751.9l8.6 8.6M629.5 760.5l8.6 -8.6M627.7 748.7l8.6 8.6M627.7 757.3l8.6 -8.6M631.6 747.5l8.6 8.6M631.6 756.1l8.6 -8.6M634.8 747.8l8.6 8.6M634.8 756.4l8.6 -8.6M638.2 747.8l8.6 8.6M638.2 756.4l8.6 -8.6M643.7 747.1l8.6 8.6M643.7 755.7l8.6 -8.6" stroke="#ffc600" stroke-width="2.6" stroke-linecap="round" fill="none"/>
<g fill="#ffc600"><circle cx="631.1" cy="760.1" r="5.6"/><circle cx="633" cy="754.6" r="5.6"/><circle cx="634" cy="756.6" r="5.6"/><circle cx="635.8" cy="760.4" r="5.6"/><circle cx="637.2" cy="753.8" r="5.6"/><circle cx="638.2" cy="755" r="5.6"/><circle cx="639.4" cy="760.2" r="5.6"/><circle cx="641" cy="752.6" r="5.6"/><circle cx="642.2" cy="756.3" r="5.6"/><circle cx="643.4" cy="758.7" r="5.6"/><circle cx="644.6" cy="752" r="5.6"/><circle cx="646.4" cy="757.1" r="5.6"/><circle cx="647.4" cy="757.6" r="5.6"/><circle cx="648.7" cy="752.7" r="5.6"/><circle cx="650.2" cy="757.4" r="5.6"/><circle cx="651.5" cy="758" r="5.6"/><circle cx="653.2" cy="754.5" r="5.6"/><circle cx="654" cy="756.5" r="5.6"/><circle cx="655.7" cy="758.7" r="5.6"/><circle cx="657.5" cy="754" r="5.6"/><circle cx="653.9" cy="751.6" r="5.6"/><circle cx="657.2" cy="756.8" r="5.6"/><circle cx="651.1" cy="757.9" r="5.6"/><circle cx="655.3" cy="755" r="5.6"/><circle cx="655.7" cy="756.9" r="5.6"/><circle cx="654.2" cy="755.1" r="5.6"/><circle cx="640" cy="767.3" r="5.6"/><circle cx="643.4" cy="766.8" r="5.6"/><circle cx="647" cy="767.5" r="5.6"/></g>
<path d="M722.7 813.5l8.6 8.6M722.7 822.1l8.6 -8.6M724.4 815.3l8.6 8.6M724.4 823.9l8.6 -8.6M722 815.7l8.6 8.6M722 824.3l8.6 -8.6M721.4 816.8l8.6 8.6M721.4 825.4l8.6 -8.6M723.6 817.6l8.6 8.6M723.6 826.2l8.6 -8.6M724.5 819.1l8.6 8.6M724.5 827.7l8.6 -8.6M721.2 819.1l8.6 8.6M721.2 827.7l8.6 -8.6M723.8 820.4l8.6 8.6M723.8 829l8.6 -8.6M722.8 821.2l8.6 8.6M722.8 829.8l8.6 -8.6M720.9 822.2l8.6 8.6M720.9 830.8l8.6 -8.6M724.8 823.6l8.6 8.6M724.8 832.2l8.6 -8.6M720.8 823.9l8.6 8.6M720.8 832.5l8.6 -8.6M721.2 824.7l8.6 8.6M721.2 833.3l8.6 -8.6M724.9 826.4l8.6 8.6M724.9 835l8.6 -8.6M721.6 826.8l8.6 8.6M721.6 835.4l8.6 -8.6M720.3 827.3l8.6 8.6M720.3 835.9l8.6 -8.6M723.5 828.8l8.6 8.6M723.5 837.4l8.6 -8.6M719.7 829.4l8.6 8.6M719.7 838l8.6 -8.6M718.3 829.9l8.6 8.6M718.3 838.5l8.6 -8.6M721.4 831.8l8.6 8.6M721.4 840.4l8.6 -8.6M720.2 812.2l8.6 8.6M720.2 820.8l8.6 -8.6M727.2 811.7l8.6 8.6M727.2 820.3l8.6 -8.6" stroke="#00b3ff" stroke-width="2.6" stroke-linecap="round" fill="none"/>
<g fill="#00b3ff"><circle cx="729.1" cy="845.1" r="5.6"/><circle cx="728" cy="848.9" r="5.6"/><circle cx="723.2" cy="854" r="5.6"/><circle cx="720.7" cy="852.7" r="5.6"/><circle cx="717.5" cy="845.4" r="5.6"/><circle cx="718.7" cy="840.3" r="5.6"/><circle cx="722.6" cy="836.6" r="5.6"/><circle cx="726.7" cy="838.7" r="5.6"/><circle cx="720.6" cy="847.3" r="5.6"/><circle cx="724.8" cy="843.8" r="5.6"/><circle cx="722.5" cy="845.9" r="5.6"/><circle cx="723.8" cy="850.8" r="5.6"/><circle cx="726.8" cy="846.5" r="5.6"/><circle cx="722" cy="838.8" r="5.6"/><circle cx="718.5" cy="847.2" r="5.6"/><circle cx="724.2" cy="849.3" r="5.6"/></g>
<path d="M913.7 796.7l8.6 8.6M913.7 805.3l8.6 -8.6M915.1 802.9l8.6 8.6M915.1 811.5l8.6 -8.6M914.4 806.7l8.6 8.6M914.4 815.3l8.6 -8.6M912.9 808.9l8.6 8.6M912.9 817.5l8.6 -8.6M908 810.4l8.6 8.6M908 819l8.6 -8.6M904.4 809.7l8.6 8.6M904.4 818.3l8.6 -8.6M902.3 807.7l8.6 8.6M902.3 816.3l8.6 -8.6M901 802.8l8.6 8.6M901 811.4l8.6 -8.6M902.4 796.6l8.6 8.6M902.4 805.2l8.6 -8.6M904.6 794.6l8.6 8.6M904.6 803.2l8.6 -8.6M910.4 794.1l8.6 8.6M910.4 802.7l8.6 -8.6M913.6 803.7l8.6 8.6M913.6 812.3l8.6 -8.6M912.2 801.2l8.6 8.6M912.2 809.8l8.6 -8.6M908.7 803.3l8.6 8.6M908.7 811.9l8.6 -8.6M912.6 805.6l8.6 8.6M912.6 814.2l8.6 -8.6M913.7 803.5l8.6 8.6M913.7 812.1l8.6 -8.6M906.8 799.2l8.6 8.6M906.8 807.8l8.6 -8.6M905.1 807.4l8.6 8.6M905.1 816l8.6 -8.6M907.4 804.8l8.6 8.6M907.4 813.4l8.6 -8.6M914.2 806.2l8.6 8.6M914.2 814.8l8.6 -8.6M904.3 798.3l8.6 8.6M904.3 806.9l8.6 -8.6M905.5 798.4l8.6 8.6M905.5 807l8.6 -8.6M905.9 807l8.6 8.6M905.9 815.6l8.6 -8.6M910.2 798.8l8.6 8.6M910.2 807.4l8.6 -8.6M914.4 803l8.6 8.6M914.4 811.6l8.6 -8.6M911.3 809.6l8.6 8.6M911.3 818.2l8.6 -8.6M908.8 802.6l8.6 8.6M908.8 811.2l8.6 -8.6M911.5 808.2l8.6 8.6M911.5 816.8l8.6 -8.6M911 800.3l8.6 8.6M911 808.9l8.6 -8.6M905.9 797.3l8.6 8.6M905.9 805.9l8.6 -8.6M910.6 800.1l8.6 8.6M910.6 808.7l8.6 -8.6M904.5 808.5l8.6 8.6M904.5 817.1l8.6 -8.6M909.3 800.3l8.6 8.6M909.3 808.9l8.6 -8.6M905 809.5l8.6 8.6M905 818.1l8.6 -8.6" stroke="#f30900" stroke-width="2.6" stroke-linecap="round" fill="none"/>
<g fill="#f30900"><circle cx="918.1" cy="811.4" r="5.6"/><circle cx="921.4" cy="808.8" r="5.6"/><circle cx="923.3" cy="810.6" r="5.6"/><circle cx="925.8" cy="810.2" r="5.6"/><circle cx="928" cy="808" r="5.6"/><circle cx="930.5" cy="807.8" r="5.6"/><circle cx="932.7" cy="808.8" r="5.6"/><circle cx="934.1" cy="806.3" r="5.6"/><circle cx="937.9" cy="806.3" r="5.6"/><circle cx="943" cy="803" r="5.6"/><circle cx="945.4" cy="806.4" r="5.6"/><circle cx="941.1" cy="806.9" r="5.6"/><circle cx="944.3" cy="805.2" r="5.6"/><circle cx="943.3" cy="806.1" r="5.6"/><circle cx="943" cy="805.1" r="5.6"/></g>
<path d="M813.5 839l8.6 8.6M813.5 847.6l8.6 -8.6M811 835.4l8.6 8.6M811 844l8.6 -8.6M810.6 831.8l8.6 8.6M810.6 840.4l8.6 -8.6M811 824.8l8.6 8.6M811 833.4l8.6 -8.6M812.7 823l8.6 8.6M812.7 831.6l8.6 -8.6M817.1 820.7l8.6 8.6M817.1 829.3l8.6 -8.6M818.7 823.6l8.6 8.6M818.7 832.2l8.6 -8.6M820.5 826.9l8.6 8.6M820.5 835.5l8.6 -8.6M819.5 834.3l8.6 8.6M819.5 842.9l8.6 -8.6M817.7 835.8l8.6 8.6M817.7 844.4l8.6 -8.6M816.3 823.2l8.6 8.6M816.3 831.8l8.6 -8.6M813.3 824.4l8.6 8.6M813.3 833l8.6 -8.6M813.1 836.2l8.6 8.6M813.1 844.8l8.6 -8.6M811.7 831.3l8.6 8.6M811.7 839.9l8.6 -8.6M814.7 825.6l8.6 8.6M814.7 834.2l8.6 -8.6M811.9 834.5l8.6 8.6M811.9 843.1l8.6 -8.6M813.7 824.3l8.6 8.6M813.7 832.9l8.6 -8.6M815.6 831.9l8.6 8.6M815.6 840.5l8.6 -8.6M816.7 833.5l8.6 8.6M816.7 842.1l8.6 -8.6M818.7 830.3l8.6 8.6M818.7 838.9l8.6 -8.6M815.9 826.8l8.6 8.6M815.9 835.4l8.6 -8.6M813.4 831.6l8.6 8.6M813.4 840.2l8.6 -8.6M816 829.7l8.6 8.6M816 838.3l8.6 -8.6M813.1 833.9l8.6 8.6M813.1 842.5l8.6 -8.6M813.2 834l8.6 8.6M813.2 842.6l8.6 -8.6M815.2 832l8.6 8.6M815.2 840.6l8.6 -8.6M812.7 827l8.6 8.6M812.7 835.6l8.6 -8.6M814.3 828.5l8.6 8.6M814.3 837.1l8.6 -8.6M817.5 828.7l8.6 8.6M817.5 837.3l8.6 -8.6M815.2 830.5l8.6 8.6M815.2 839.1l8.6 -8.6" stroke="#29ffce" stroke-width="2.6" stroke-linecap="round" fill="none"/>
<g fill="#29ffce"><circle cx="823.2" cy="833.2" r="5.6"/><circle cx="821.5" cy="830.5" r="5.6"/><circle cx="823.4" cy="828.8" r="5.6"/><circle cx="823.6" cy="826.9" r="5.6"/><circle cx="821.9" cy="823.8" r="5.6"/><circle cx="823.3" cy="823.1" r="5.6"/><circle cx="825.6" cy="820.5" r="5.6"/><circle cx="823.6" cy="817.9" r="5.6"/><circle cx="824.9" cy="816" r="5.6"/><circle cx="828.2" cy="814.6" r="5.6"/><circle cx="830.1" cy="815.7" r="5.6"/><circle cx="831.6" cy="817.4" r="5.6"/><circle cx="834" cy="815.4" r="5.6"/><circle cx="835.9" cy="817.6" r="5.6"/><circle cx="835.6" cy="817.2" r="5.6"/><circle cx="838" cy="820.1" r="5.6"/><circle cx="839" cy="822.5" r="5.6"/><circle cx="839.2" cy="824.7" r="5.6"/><circle cx="841.6" cy="827.2" r="5.6"/></g>
<g fill="#ff6800"><circle cx="785.9" cy="921.8" r="5.6"/><circle cx="783.7" cy="920.7" r="5.6"/><circle cx="781.8" cy="916.4" r="5.6"/><circle cx="782.3" cy="914" r="5.6"/><circle cx="784.6" cy="912.1" r="5.6"/><circle cx="788.1" cy="911.9" r="5.6"/><circle cx="790.9" cy="913.4" r="5.6"/><circle cx="791.5" cy="916" r="5.6"/><circle cx="791" cy="918.2" r="5.6"/><circle cx="788.4" cy="921.7" r="5.6"/><circle cx="788" cy="912.5" r="5.6"/><circle cx="786.1" cy="915.7" r="5.6"/><circle cx="785.5" cy="916.4" r="5.6"/><circle cx="788.7" cy="919.8" r="5.6"/><circle cx="787" cy="918.3" r="5.6"/><circle cx="789.8" cy="918.4" r="5.6"/><circle cx="787.6" cy="918.5" r="5.6"/><circle cx="785.9" cy="916.4" r="5.6"/><circle cx="789.6" cy="919.5" r="5.6"/><circle cx="785.3" cy="915.4" r="5.6"/><circle cx="795.3" cy="927" r="5.6"/><circle cx="793" cy="923.5" r="5.6"/></g>
<path d="M798.4 945.4l8.6 8.6M798.4 954l8.6 -8.6M800.2 949.3l8.6 8.6M800.2 957.9l8.6 -8.6M801.4 953.5l8.6 8.6M801.4 962.1l8.6 -8.6M800.7 956.8l8.6 8.6M800.7 965.4l8.6 -8.6M797.8 958.9l8.6 8.6M797.8 967.5l8.6 -8.6M794.2 961.9l8.6 8.6M794.2 970.5l8.6 -8.6M792 960.3l8.6 8.6M792 968.9l8.6 -8.6M788.6 956.3l8.6 8.6M788.6 964.9l8.6 -8.6M786.5 952.3l8.6 8.6M786.5 960.9l8.6 -8.6M787.1 949.1l8.6 8.6M787.1 957.7l8.6 -8.6M787.7 944.1l8.6 8.6M787.7 952.7l8.6 -8.6M792.1 942.7l8.6 8.6M792.1 951.3l8.6 -8.6M794.9 942.9l8.6 8.6M794.9 951.5l8.6 -8.6M788.8 952.6l8.6 8.6M788.8 961.2l8.6 -8.6M789.6 953.1l8.6 8.6M789.6 961.7l8.6 -8.6M799.1 949.7l8.6 8.6M799.1 958.3l8.6 -8.6M788.6 947l8.6 8.6M788.6 955.6l8.6 -8.6M788.5 953.9l8.6 8.6M788.5 962.5l8.6 -8.6M789.6 954l8.6 8.6M789.6 962.6l8.6 -8.6M794.5 955l8.6 8.6M794.5 963.6l8.6 -8.6M794.2 952.1l8.6 8.6M794.2 960.7l8.6 -8.6M796.2 959.7l8.6 8.6M796.2 968.3l8.6 -8.6M796.6 955.6l8.6 8.6M796.6 964.2l8.6 -8.6M793 951.6l8.6 8.6M793 960.2l8.6 -8.6M796.5 956.2l8.6 8.6M796.5 964.8l8.6 -8.6M793.7 946.5l8.6 8.6M793.7 955.1l8.6 -8.6M798 955.9l8.6 8.6M798 964.5l8.6 -8.6M788.3 948l8.6 8.6M788.3 956.6l8.6 -8.6M789.6 947l8.6 8.6M789.6 955.6l8.6 -8.6M794.6 954.3l8.6 8.6M794.6 962.9l8.6 -8.6M791.7 947.1l8.6 8.6M791.7 955.7l8.6 -8.6M795.2 957.8l8.6 8.6M795.2 966.4l8.6 -8.6M789.7 954.3l8.6 8.6M789.7 962.9l8.6 -8.6M791.2 950l8.6 8.6M791.2 958.6l8.6 -8.6M799.4 952.2l8.6 8.6M799.4 960.8l8.6 -8.6M791.9 956.2l8.6 8.6M791.9 964.8l8.6 -8.6M796.2 953.9l8.6 8.6M796.2 962.5l8.6 -8.6M791.5 953.8l8.6 8.6M791.5 962.4l8.6 -8.6M800.3 951.8l8.6 8.6M800.3 960.4l8.6 -8.6M788.9 951.3l8.6 8.6M788.9 959.9l8.6 -8.6" stroke="#ff6800" stroke-width="2.6" stroke-linecap="round" fill="none"/>
</g>
<circle cx="45.7" cy="1062.9" r="9.3" fill="#0a48ff"/>
<text x="83.2" y="1073.4" font-size="27.5" textLength="178" lengthAdjust="spacingAndGlyphs" font-weight="bold" font-family="'Liberation Serif', 'Times New Roman', serif" fill="#111">Source Domain</text>
<text x="320.6" y="1073.4" font-size="27" text-anchor="middle" textLength="19.6" lengthAdjust="spacingAndGlyphs" fill="#f01414" stroke="#f01414" stroke-width="0.5">X</text>
<text x="353" y="1073.4" font-size="27.5" textLength="174.5" lengthAdjust="spacingAndGlyphs" font-weight="bold" font-family="'Liberation Serif', 'Times New Roman', serif" fill="#111">Target Domain</text>
</svg></body></html>
